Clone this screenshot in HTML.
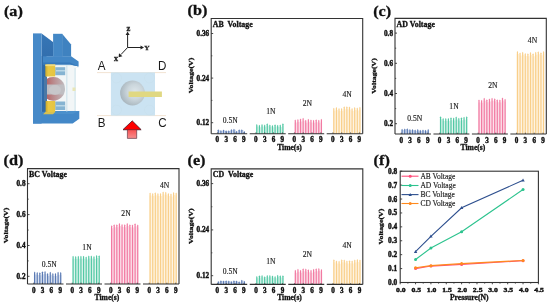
<!DOCTYPE html>
<html><head><meta charset="utf-8"><style>
html,body{margin:0;padding:0;background:#fff;}
svg{display:block;will-change:transform;}
</style></head><body>
<svg width="550" height="306" viewBox="0 0 550 306">
<rect width="550" height="306" fill="#fff"/>
<text transform="translate(197.50,15.05) scale(1.08,1)" font-family='"Liberation Serif", serif' font-size="15" font-weight="bold" text-anchor="middle" fill="#111" stroke="#111" stroke-width="0.3" >(b)</text>
<path d="M211.2,133.7 L211.2,18.5 L362.7,18.5 L362.7,133.7" fill="none" stroke="#333" stroke-width="1.1"/>
<text transform="translate(212.70,26.70) scale(1.09,1)" font-family='"Liberation Serif", serif' font-size="7.25" font-weight="bold" text-anchor="start" fill="#111" stroke="#111" stroke-width="0.3" >AB&#160;&#160;Voltage</text>
<line x1="211.2" y1="33.5" x2="213.2" y2="33.5" stroke="#333" stroke-width="0.9"/>
<text transform="translate(209.20,35.95) scale(0.99,1)" font-family='"Liberation Serif", serif' font-size="7.3" font-weight="bold" text-anchor="end" fill="#111" stroke="#111" stroke-width="0.4" >0.36</text>
<line x1="211.2" y1="78.1" x2="213.2" y2="78.1" stroke="#333" stroke-width="0.9"/>
<text transform="translate(209.20,80.55) scale(0.99,1)" font-family='"Liberation Serif", serif' font-size="7.3" font-weight="bold" text-anchor="end" fill="#111" stroke="#111" stroke-width="0.4" >0.24</text>
<line x1="211.2" y1="122.7" x2="213.2" y2="122.7" stroke="#333" stroke-width="0.9"/>
<text transform="translate(209.20,125.15) scale(0.99,1)" font-family='"Liberation Serif", serif' font-size="7.3" font-weight="bold" text-anchor="end" fill="#111" stroke="#111" stroke-width="0.4" >0.12</text>
<line x1="211.2" y1="55.8" x2="212.39999999999998" y2="55.8" stroke="#333" stroke-width="0.8"/>
<line x1="211.2" y1="100.4" x2="212.39999999999998" y2="100.4" stroke="#333" stroke-width="0.8"/>
<text x="0" y="0" transform="translate(193.2,75.5) rotate(-90) scale(1.13,1)" font-family='"Liberation Serif", serif' font-size="6.9" font-weight="bold" text-anchor="middle" fill="#111" stroke="#111" stroke-width="0.3">Voltage(V)</text>
<polygon points="217.60,133.7 217.60,130.30 220.21,130.30 220.21,130.97 222.82,130.97 222.82,130.59 225.43,130.59 225.43,131.10 228.04,131.10 228.04,131.15 230.65,131.15 230.65,129.92 233.26,129.92 233.26,129.80 235.87,129.80 235.87,131.62 238.48,131.62 238.48,130.35 241.09,130.35 241.09,130.29 243.70,130.29 243.70,131.97 245.10,131.97 245.10,133.7" fill="#c8d4ea" opacity="0.8"/>
<path d="M217.70,133.7 L217.70,130.32 L218.30,129.32 L218.90,130.32 L218.90,133.7 Z" fill="#5a7ab4"/>
<path d="M220.31,133.7 L220.31,131.00 L220.91,130.00 L221.51,131.00 L221.51,133.7 Z" fill="#5a7ab4"/>
<path d="M222.92,133.7 L222.92,130.61 L223.52,129.61 L224.12,130.61 L224.12,133.7 Z" fill="#5a7ab4"/>
<path d="M225.53,133.7 L225.53,131.13 L226.13,130.13 L226.73,131.13 L226.73,133.7 Z" fill="#5a7ab4"/>
<path d="M228.14,133.7 L228.14,131.18 L228.74,130.18 L229.34,131.18 L229.34,133.7 Z" fill="#5a7ab4"/>
<path d="M230.75,133.7 L230.75,129.94 L231.35,128.94 L231.95,129.94 L231.95,133.7 Z" fill="#5a7ab4"/>
<path d="M233.36,133.7 L233.36,129.83 L233.96,128.83 L234.56,129.83 L234.56,133.7 Z" fill="#5a7ab4"/>
<path d="M235.97,133.7 L235.97,131.64 L236.57,130.64 L237.17,131.64 L237.17,133.7 Z" fill="#5a7ab4"/>
<path d="M238.58,133.7 L238.58,130.37 L239.18,129.37 L239.78,130.37 L239.78,133.7 Z" fill="#5a7ab4"/>
<path d="M241.19,133.7 L241.19,130.32 L241.79,129.32 L242.39,130.32 L242.39,133.7 Z" fill="#5a7ab4"/>
<path d="M243.80,133.7 L243.80,131.99 L244.40,130.99 L245.00,131.99 L245.00,133.7 Z" fill="#5a7ab4"/>
<line x1="211.2" y1="133.7" x2="247.2" y2="133.7" stroke="#333" stroke-width="1.1"/>
<line x1="217.40" y1="133.7" x2="217.40" y2="132.39999999999998" stroke="#333" stroke-width="0.7"/>
<text transform="translate(217.40,142.21) scale(0.98,1)" font-family='"Liberation Serif", serif' font-size="7.3" font-weight="bold" text-anchor="middle" fill="#111" stroke="#111" stroke-width="0.4" >0</text>
<line x1="226.23" y1="133.7" x2="226.23" y2="132.39999999999998" stroke="#333" stroke-width="0.7"/>
<text transform="translate(226.23,142.21) scale(0.98,1)" font-family='"Liberation Serif", serif' font-size="7.3" font-weight="bold" text-anchor="middle" fill="#111" stroke="#111" stroke-width="0.4" >3</text>
<line x1="235.06" y1="133.7" x2="235.06" y2="132.39999999999998" stroke="#333" stroke-width="0.7"/>
<text transform="translate(235.06,142.21) scale(0.98,1)" font-family='"Liberation Serif", serif' font-size="7.3" font-weight="bold" text-anchor="middle" fill="#111" stroke="#111" stroke-width="0.4" >6</text>
<line x1="243.89" y1="133.7" x2="243.89" y2="132.39999999999998" stroke="#333" stroke-width="0.7"/>
<text transform="translate(243.89,142.21) scale(0.98,1)" font-family='"Liberation Serif", serif' font-size="7.3" font-weight="bold" text-anchor="middle" fill="#111" stroke="#111" stroke-width="0.4" >9</text>
<text transform="translate(230.30,122.91) scale(1.0,1)" font-family='"Liberation Serif", serif' font-size="7.6" font-weight="normal" text-anchor="middle" fill="#222" stroke="#222" stroke-width="0.15" >0.5N</text>
<polygon points="256.10,133.7 256.10,126.46 258.71,126.46 258.71,127.27 261.32,127.27 261.32,126.47 263.93,126.47 263.93,126.83 266.54,126.83 266.54,125.76 269.15,125.76 269.15,126.82 271.76,126.82 271.76,127.33 274.37,127.33 274.37,126.58 276.98,126.58 276.98,127.06 279.59,127.06 279.59,126.90 282.20,126.90 282.20,125.57 283.60,125.57 283.60,133.7" fill="#c8eee2" opacity="0.8"/>
<path d="M256.20,133.7 L256.20,125.03 L256.80,124.03 L257.40,125.03 L257.40,133.7 Z" fill="#52c8a4"/>
<rect x="258.35" y="126.03" width="0.45" height="6.67" fill="#fff" opacity="0.7"/>
<path d="M258.81,133.7 L258.81,125.84 L259.41,124.84 L260.01,125.84 L260.01,133.7 Z" fill="#52c8a4"/>
<rect x="260.96" y="126.84" width="0.45" height="5.86" fill="#fff" opacity="0.7"/>
<path d="M261.42,133.7 L261.42,125.05 L262.02,124.05 L262.62,125.05 L262.62,133.7 Z" fill="#52c8a4"/>
<rect x="263.57" y="126.05" width="0.45" height="6.65" fill="#fff" opacity="0.7"/>
<path d="M264.03,133.7 L264.03,125.41 L264.63,124.41 L265.23,125.41 L265.23,133.7 Z" fill="#52c8a4"/>
<rect x="266.18" y="126.41" width="0.45" height="6.29" fill="#fff" opacity="0.7"/>
<path d="M266.64,133.7 L266.64,124.33 L267.24,123.33 L267.84,124.33 L267.84,133.7 Z" fill="#52c8a4"/>
<rect x="268.79" y="125.33" width="0.45" height="7.37" fill="#fff" opacity="0.7"/>
<path d="M269.25,133.7 L269.25,125.40 L269.85,124.40 L270.45,125.40 L270.45,133.7 Z" fill="#52c8a4"/>
<rect x="271.40" y="126.40" width="0.45" height="6.30" fill="#fff" opacity="0.7"/>
<path d="M271.86,133.7 L271.86,125.91 L272.46,124.91 L273.06,125.91 L273.06,133.7 Z" fill="#52c8a4"/>
<rect x="274.01" y="126.91" width="0.45" height="5.79" fill="#fff" opacity="0.7"/>
<path d="M274.47,133.7 L274.47,125.15 L275.07,124.15 L275.67,125.15 L275.67,133.7 Z" fill="#52c8a4"/>
<rect x="276.62" y="126.15" width="0.45" height="6.55" fill="#fff" opacity="0.7"/>
<path d="M277.08,133.7 L277.08,125.63 L277.68,124.63 L278.28,125.63 L278.28,133.7 Z" fill="#52c8a4"/>
<rect x="279.23" y="126.63" width="0.45" height="6.07" fill="#fff" opacity="0.7"/>
<path d="M279.69,133.7 L279.69,125.48 L280.29,124.48 L280.89,125.48 L280.89,133.7 Z" fill="#52c8a4"/>
<rect x="281.84" y="126.48" width="0.45" height="6.22" fill="#fff" opacity="0.7"/>
<path d="M282.30,133.7 L282.30,124.14 L282.90,123.14 L283.50,124.14 L283.50,133.7 Z" fill="#52c8a4"/>
<line x1="249.7" y1="133.7" x2="285.7" y2="133.7" stroke="#333" stroke-width="1.1"/>
<line x1="255.90" y1="133.7" x2="255.90" y2="132.39999999999998" stroke="#333" stroke-width="0.7"/>
<text transform="translate(255.90,142.21) scale(0.98,1)" font-family='"Liberation Serif", serif' font-size="7.3" font-weight="bold" text-anchor="middle" fill="#111" stroke="#111" stroke-width="0.4" >0</text>
<line x1="264.73" y1="133.7" x2="264.73" y2="132.39999999999998" stroke="#333" stroke-width="0.7"/>
<text transform="translate(264.73,142.21) scale(0.98,1)" font-family='"Liberation Serif", serif' font-size="7.3" font-weight="bold" text-anchor="middle" fill="#111" stroke="#111" stroke-width="0.4" >3</text>
<line x1="273.56" y1="133.7" x2="273.56" y2="132.39999999999998" stroke="#333" stroke-width="0.7"/>
<text transform="translate(273.56,142.21) scale(0.98,1)" font-family='"Liberation Serif", serif' font-size="7.3" font-weight="bold" text-anchor="middle" fill="#111" stroke="#111" stroke-width="0.4" >6</text>
<line x1="282.39" y1="133.7" x2="282.39" y2="132.39999999999998" stroke="#333" stroke-width="0.7"/>
<text transform="translate(282.39,142.21) scale(0.98,1)" font-family='"Liberation Serif", serif' font-size="7.3" font-weight="bold" text-anchor="middle" fill="#111" stroke="#111" stroke-width="0.4" >9</text>
<text transform="translate(270.90,113.61) scale(1.0,1)" font-family='"Liberation Serif", serif' font-size="7.6" font-weight="normal" text-anchor="middle" fill="#222" stroke="#222" stroke-width="0.15" >1N</text>
<polygon points="294.60,133.7 294.60,122.47 297.21,122.47 297.21,122.10 299.82,122.10 299.82,121.46 302.43,121.46 302.43,120.87 305.04,120.87 305.04,122.70 307.65,122.70 307.65,121.84 310.26,121.84 310.26,122.38 312.87,122.38 312.87,122.73 315.48,122.73 315.48,122.37 318.09,122.37 318.09,122.83 320.70,122.83 320.70,121.67 322.10,121.67 322.10,133.7" fill="#fad0de" opacity="0.8"/>
<path d="M294.70,133.7 L294.70,120.47 L295.30,119.47 L295.90,120.47 L295.90,133.7 Z" fill="#f27aa2"/>
<rect x="296.85" y="121.47" width="0.45" height="11.23" fill="#fff" opacity="0.7"/>
<path d="M297.31,133.7 L297.31,120.10 L297.91,119.10 L298.51,120.10 L298.51,133.7 Z" fill="#f27aa2"/>
<rect x="299.46" y="121.10" width="0.45" height="11.60" fill="#fff" opacity="0.7"/>
<path d="M299.92,133.7 L299.92,119.46 L300.52,118.46 L301.12,119.46 L301.12,133.7 Z" fill="#f27aa2"/>
<rect x="302.07" y="120.46" width="0.45" height="12.24" fill="#fff" opacity="0.7"/>
<path d="M302.53,133.7 L302.53,118.87 L303.13,117.87 L303.73,118.87 L303.73,133.7 Z" fill="#f27aa2"/>
<rect x="304.68" y="119.87" width="0.45" height="12.83" fill="#fff" opacity="0.7"/>
<path d="M305.14,133.7 L305.14,120.70 L305.74,119.70 L306.34,120.70 L306.34,133.7 Z" fill="#f27aa2"/>
<rect x="307.29" y="121.70" width="0.45" height="11.00" fill="#fff" opacity="0.7"/>
<path d="M307.75,133.7 L307.75,119.84 L308.35,118.84 L308.95,119.84 L308.95,133.7 Z" fill="#f27aa2"/>
<rect x="309.90" y="120.84" width="0.45" height="11.86" fill="#fff" opacity="0.7"/>
<path d="M310.36,133.7 L310.36,120.38 L310.96,119.38 L311.56,120.38 L311.56,133.7 Z" fill="#f27aa2"/>
<rect x="312.51" y="121.38" width="0.45" height="11.32" fill="#fff" opacity="0.7"/>
<path d="M312.97,133.7 L312.97,120.73 L313.57,119.73 L314.17,120.73 L314.17,133.7 Z" fill="#f27aa2"/>
<rect x="315.12" y="121.73" width="0.45" height="10.97" fill="#fff" opacity="0.7"/>
<path d="M315.58,133.7 L315.58,120.37 L316.18,119.37 L316.78,120.37 L316.78,133.7 Z" fill="#f27aa2"/>
<rect x="317.73" y="121.37" width="0.45" height="11.33" fill="#fff" opacity="0.7"/>
<path d="M318.19,133.7 L318.19,120.83 L318.79,119.83 L319.39,120.83 L319.39,133.7 Z" fill="#f27aa2"/>
<rect x="320.34" y="121.83" width="0.45" height="10.87" fill="#fff" opacity="0.7"/>
<path d="M320.80,133.7 L320.80,119.67 L321.40,118.67 L322.00,119.67 L322.00,133.7 Z" fill="#f27aa2"/>
<line x1="288.2" y1="133.7" x2="324.2" y2="133.7" stroke="#333" stroke-width="1.1"/>
<line x1="294.40" y1="133.7" x2="294.40" y2="132.39999999999998" stroke="#333" stroke-width="0.7"/>
<text transform="translate(294.40,142.21) scale(0.98,1)" font-family='"Liberation Serif", serif' font-size="7.3" font-weight="bold" text-anchor="middle" fill="#111" stroke="#111" stroke-width="0.4" >0</text>
<line x1="303.23" y1="133.7" x2="303.23" y2="132.39999999999998" stroke="#333" stroke-width="0.7"/>
<text transform="translate(303.23,142.21) scale(0.98,1)" font-family='"Liberation Serif", serif' font-size="7.3" font-weight="bold" text-anchor="middle" fill="#111" stroke="#111" stroke-width="0.4" >3</text>
<line x1="312.06" y1="133.7" x2="312.06" y2="132.39999999999998" stroke="#333" stroke-width="0.7"/>
<text transform="translate(312.06,142.21) scale(0.98,1)" font-family='"Liberation Serif", serif' font-size="7.3" font-weight="bold" text-anchor="middle" fill="#111" stroke="#111" stroke-width="0.4" >6</text>
<line x1="320.89" y1="133.7" x2="320.89" y2="132.39999999999998" stroke="#333" stroke-width="0.7"/>
<text transform="translate(320.89,142.21) scale(0.98,1)" font-family='"Liberation Serif", serif' font-size="7.3" font-weight="bold" text-anchor="middle" fill="#111" stroke="#111" stroke-width="0.4" >9</text>
<text transform="translate(307.40,106.01) scale(1.0,1)" font-family='"Liberation Serif", serif' font-size="7.6" font-weight="normal" text-anchor="middle" fill="#222" stroke="#222" stroke-width="0.15" >2N</text>
<polygon points="333.10,133.7 333.10,110.76 335.71,110.76 335.71,109.98 338.32,109.98 338.32,111.06 340.93,111.06 340.93,110.93 343.54,110.93 343.54,109.21 346.15,109.21 346.15,109.30 348.76,109.30 348.76,109.48 351.37,109.48 351.37,111.12 353.98,111.12 353.98,109.96 356.59,109.96 356.59,110.38 359.20,110.38 359.20,109.66 360.60,109.66 360.60,133.7" fill="#feedd2" opacity="0.8"/>
<path d="M333.20,133.7 L333.20,108.76 L333.80,107.76 L334.40,108.76 L334.40,133.7 Z" fill="#f9cf8a"/>
<rect x="335.35" y="109.76" width="0.45" height="22.94" fill="#fff" opacity="0.7"/>
<path d="M335.81,133.7 L335.81,107.98 L336.41,106.98 L337.01,107.98 L337.01,133.7 Z" fill="#f9cf8a"/>
<rect x="337.96" y="108.98" width="0.45" height="23.72" fill="#fff" opacity="0.7"/>
<path d="M338.42,133.7 L338.42,109.06 L339.02,108.06 L339.62,109.06 L339.62,133.7 Z" fill="#f9cf8a"/>
<rect x="340.57" y="110.06" width="0.45" height="22.64" fill="#fff" opacity="0.7"/>
<path d="M341.03,133.7 L341.03,108.93 L341.63,107.93 L342.23,108.93 L342.23,133.7 Z" fill="#f9cf8a"/>
<rect x="343.18" y="109.93" width="0.45" height="22.77" fill="#fff" opacity="0.7"/>
<path d="M343.64,133.7 L343.64,107.21 L344.24,106.21 L344.84,107.21 L344.84,133.7 Z" fill="#f9cf8a"/>
<rect x="345.79" y="108.21" width="0.45" height="24.49" fill="#fff" opacity="0.7"/>
<path d="M346.25,133.7 L346.25,107.30 L346.85,106.30 L347.45,107.30 L347.45,133.7 Z" fill="#f9cf8a"/>
<rect x="348.40" y="108.30" width="0.45" height="24.40" fill="#fff" opacity="0.7"/>
<path d="M348.86,133.7 L348.86,107.48 L349.46,106.48 L350.06,107.48 L350.06,133.7 Z" fill="#f9cf8a"/>
<rect x="351.01" y="108.48" width="0.45" height="24.22" fill="#fff" opacity="0.7"/>
<path d="M351.47,133.7 L351.47,109.12 L352.07,108.12 L352.67,109.12 L352.67,133.7 Z" fill="#f9cf8a"/>
<rect x="353.62" y="110.12" width="0.45" height="22.58" fill="#fff" opacity="0.7"/>
<path d="M354.08,133.7 L354.08,107.96 L354.68,106.96 L355.28,107.96 L355.28,133.7 Z" fill="#f9cf8a"/>
<rect x="356.23" y="108.96" width="0.45" height="23.74" fill="#fff" opacity="0.7"/>
<path d="M356.69,133.7 L356.69,108.38 L357.29,107.38 L357.89,108.38 L357.89,133.7 Z" fill="#f9cf8a"/>
<rect x="358.84" y="109.38" width="0.45" height="23.32" fill="#fff" opacity="0.7"/>
<path d="M359.30,133.7 L359.30,107.66 L359.90,106.66 L360.50,107.66 L360.50,133.7 Z" fill="#f9cf8a"/>
<line x1="326.7" y1="133.7" x2="362.7" y2="133.7" stroke="#333" stroke-width="1.1"/>
<line x1="332.90" y1="133.7" x2="332.90" y2="132.39999999999998" stroke="#333" stroke-width="0.7"/>
<text transform="translate(332.90,142.21) scale(0.98,1)" font-family='"Liberation Serif", serif' font-size="7.3" font-weight="bold" text-anchor="middle" fill="#111" stroke="#111" stroke-width="0.4" >0</text>
<line x1="341.73" y1="133.7" x2="341.73" y2="132.39999999999998" stroke="#333" stroke-width="0.7"/>
<text transform="translate(341.73,142.21) scale(0.98,1)" font-family='"Liberation Serif", serif' font-size="7.3" font-weight="bold" text-anchor="middle" fill="#111" stroke="#111" stroke-width="0.4" >3</text>
<line x1="350.56" y1="133.7" x2="350.56" y2="132.39999999999998" stroke="#333" stroke-width="0.7"/>
<text transform="translate(350.56,142.21) scale(0.98,1)" font-family='"Liberation Serif", serif' font-size="7.3" font-weight="bold" text-anchor="middle" fill="#111" stroke="#111" stroke-width="0.4" >6</text>
<line x1="359.39" y1="133.7" x2="359.39" y2="132.39999999999998" stroke="#333" stroke-width="0.7"/>
<text transform="translate(359.39,142.21) scale(0.98,1)" font-family='"Liberation Serif", serif' font-size="7.3" font-weight="bold" text-anchor="middle" fill="#111" stroke="#111" stroke-width="0.4" >9</text>
<text transform="translate(347.20,97.31) scale(1.0,1)" font-family='"Liberation Serif", serif' font-size="7.6" font-weight="normal" text-anchor="middle" fill="#222" stroke="#222" stroke-width="0.15" >4N</text>
<text transform="translate(289.50,149.81) scale(1.0,1)" font-family='"Liberation Serif", serif' font-size="7.6" font-weight="bold" text-anchor="middle" fill="#111" stroke="#111" stroke-width="0.3" >Time(s)</text>
<text transform="translate(382.20,15.55) scale(1.08,1)" font-family='"Liberation Serif", serif' font-size="15" font-weight="bold" text-anchor="middle" fill="#111" stroke="#111" stroke-width="0.3" >(c)</text>
<path d="M395.0,134.0 L395.0,18.4 L546.3,18.4 L546.3,134.0" fill="none" stroke="#333" stroke-width="1.1"/>
<text transform="translate(396.50,26.60) scale(1.09,1)" font-family='"Liberation Serif", serif' font-size="7.25" font-weight="bold" text-anchor="start" fill="#111" stroke="#111" stroke-width="0.3" >AD Voltage</text>
<line x1="395.0" y1="33.1" x2="397.0" y2="33.1" stroke="#333" stroke-width="0.9"/>
<text transform="translate(393.00,35.55) scale(0.99,1)" font-family='"Liberation Serif", serif' font-size="7.3" font-weight="bold" text-anchor="end" fill="#111" stroke="#111" stroke-width="0.4" >0.8</text>
<line x1="395.0" y1="63.3" x2="397.0" y2="63.3" stroke="#333" stroke-width="0.9"/>
<text transform="translate(393.00,65.75) scale(0.99,1)" font-family='"Liberation Serif", serif' font-size="7.3" font-weight="bold" text-anchor="end" fill="#111" stroke="#111" stroke-width="0.4" >0.6</text>
<line x1="395.0" y1="93.5" x2="397.0" y2="93.5" stroke="#333" stroke-width="0.9"/>
<text transform="translate(393.00,95.95) scale(0.99,1)" font-family='"Liberation Serif", serif' font-size="7.3" font-weight="bold" text-anchor="end" fill="#111" stroke="#111" stroke-width="0.4" >0.4</text>
<line x1="395.0" y1="123.7" x2="397.0" y2="123.7" stroke="#333" stroke-width="0.9"/>
<text transform="translate(393.00,126.15) scale(0.99,1)" font-family='"Liberation Serif", serif' font-size="7.3" font-weight="bold" text-anchor="end" fill="#111" stroke="#111" stroke-width="0.4" >0.2</text>
<line x1="395.0" y1="48.2" x2="396.2" y2="48.2" stroke="#333" stroke-width="0.8"/>
<line x1="395.0" y1="78.4" x2="396.2" y2="78.4" stroke="#333" stroke-width="0.8"/>
<line x1="395.0" y1="108.6" x2="396.2" y2="108.6" stroke="#333" stroke-width="0.8"/>
<text x="0" y="0" transform="translate(376.3,76.0) rotate(-90) scale(1.13,1)" font-family='"Liberation Serif", serif' font-size="6.9" font-weight="bold" text-anchor="middle" fill="#111" stroke="#111" stroke-width="0.3">Voltage(V)</text>
<polygon points="401.40,134.0 401.40,130.07 404.01,130.07 404.01,129.80 406.62,129.80 406.62,129.72 409.23,129.72 409.23,130.24 411.84,130.24 411.84,130.24 414.45,130.24 414.45,130.94 417.06,130.94 417.06,130.45 419.67,130.45 419.67,130.99 422.28,130.99 422.28,130.83 424.89,130.83 424.89,131.13 427.50,131.13 427.50,130.43 428.90,130.43 428.90,134.0" fill="#c8d4ea" opacity="0.8"/>
<path d="M401.50,134.0 L401.50,129.72 L402.10,128.72 L402.70,129.72 L402.70,134.0 Z" fill="#5a7ab4"/>
<path d="M404.11,134.0 L404.11,129.45 L404.71,128.45 L405.31,129.45 L405.31,134.0 Z" fill="#5a7ab4"/>
<path d="M406.72,134.0 L406.72,129.37 L407.32,128.37 L407.92,129.37 L407.92,134.0 Z" fill="#5a7ab4"/>
<path d="M409.33,134.0 L409.33,129.89 L409.93,128.89 L410.53,129.89 L410.53,134.0 Z" fill="#5a7ab4"/>
<path d="M411.94,134.0 L411.94,129.89 L412.54,128.89 L413.14,129.89 L413.14,134.0 Z" fill="#5a7ab4"/>
<path d="M414.55,134.0 L414.55,130.59 L415.15,129.59 L415.75,130.59 L415.75,134.0 Z" fill="#5a7ab4"/>
<path d="M417.16,134.0 L417.16,130.10 L417.76,129.10 L418.36,130.10 L418.36,134.0 Z" fill="#5a7ab4"/>
<path d="M419.77,134.0 L419.77,130.64 L420.37,129.64 L420.97,130.64 L420.97,134.0 Z" fill="#5a7ab4"/>
<path d="M422.38,134.0 L422.38,130.48 L422.98,129.48 L423.58,130.48 L423.58,134.0 Z" fill="#5a7ab4"/>
<path d="M424.99,134.0 L424.99,130.78 L425.59,129.78 L426.19,130.78 L426.19,134.0 Z" fill="#5a7ab4"/>
<path d="M427.60,134.0 L427.60,130.08 L428.20,129.08 L428.80,130.08 L428.80,134.0 Z" fill="#5a7ab4"/>
<line x1="395.0" y1="134.0" x2="430.95" y2="134.0" stroke="#333" stroke-width="1.1"/>
<line x1="401.20" y1="134.0" x2="401.20" y2="132.7" stroke="#333" stroke-width="0.7"/>
<text transform="translate(401.20,142.51) scale(0.98,1)" font-family='"Liberation Serif", serif' font-size="7.3" font-weight="bold" text-anchor="middle" fill="#111" stroke="#111" stroke-width="0.4" >0</text>
<line x1="410.03" y1="134.0" x2="410.03" y2="132.7" stroke="#333" stroke-width="0.7"/>
<text transform="translate(410.03,142.51) scale(0.98,1)" font-family='"Liberation Serif", serif' font-size="7.3" font-weight="bold" text-anchor="middle" fill="#111" stroke="#111" stroke-width="0.4" >3</text>
<line x1="418.86" y1="134.0" x2="418.86" y2="132.7" stroke="#333" stroke-width="0.7"/>
<text transform="translate(418.86,142.51) scale(0.98,1)" font-family='"Liberation Serif", serif' font-size="7.3" font-weight="bold" text-anchor="middle" fill="#111" stroke="#111" stroke-width="0.4" >6</text>
<line x1="427.69" y1="134.0" x2="427.69" y2="132.7" stroke="#333" stroke-width="0.7"/>
<text transform="translate(427.69,142.51) scale(0.98,1)" font-family='"Liberation Serif", serif' font-size="7.3" font-weight="bold" text-anchor="middle" fill="#111" stroke="#111" stroke-width="0.4" >9</text>
<text transform="translate(414.80,120.61) scale(1.0,1)" font-family='"Liberation Serif", serif' font-size="7.6" font-weight="normal" text-anchor="middle" fill="#222" stroke="#222" stroke-width="0.15" >0.5N</text>
<polygon points="439.85,134.0 439.85,119.36 442.46,119.36 442.46,120.89 445.07,120.89 445.07,121.12 447.68,121.12 447.68,120.99 450.29,120.99 450.29,120.25 452.90,120.25 452.90,120.57 455.51,120.57 455.51,119.46 458.12,119.46 458.12,120.83 460.73,120.83 460.73,120.26 463.34,120.26 463.34,119.63 465.95,119.63 465.95,119.14 467.35,119.14 467.35,134.0" fill="#c8eee2" opacity="0.8"/>
<path d="M439.95,134.0 L439.95,117.36 L440.55,116.36 L441.15,117.36 L441.15,134.0 Z" fill="#52c8a4"/>
<rect x="442.10" y="118.36" width="0.45" height="14.64" fill="#fff" opacity="0.7"/>
<path d="M442.56,134.0 L442.56,118.89 L443.16,117.89 L443.76,118.89 L443.76,134.0 Z" fill="#52c8a4"/>
<rect x="444.71" y="119.89" width="0.45" height="13.11" fill="#fff" opacity="0.7"/>
<path d="M445.17,134.0 L445.17,119.12 L445.77,118.12 L446.37,119.12 L446.37,134.0 Z" fill="#52c8a4"/>
<rect x="447.32" y="120.12" width="0.45" height="12.88" fill="#fff" opacity="0.7"/>
<path d="M447.78,134.0 L447.78,118.99 L448.38,117.99 L448.98,118.99 L448.98,134.0 Z" fill="#52c8a4"/>
<rect x="449.93" y="119.99" width="0.45" height="13.01" fill="#fff" opacity="0.7"/>
<path d="M450.39,134.0 L450.39,118.25 L450.99,117.25 L451.59,118.25 L451.59,134.0 Z" fill="#52c8a4"/>
<rect x="452.54" y="119.25" width="0.45" height="13.75" fill="#fff" opacity="0.7"/>
<path d="M453.00,134.0 L453.00,118.57 L453.60,117.57 L454.20,118.57 L454.20,134.0 Z" fill="#52c8a4"/>
<rect x="455.15" y="119.57" width="0.45" height="13.43" fill="#fff" opacity="0.7"/>
<path d="M455.61,134.0 L455.61,117.46 L456.21,116.46 L456.81,117.46 L456.81,134.0 Z" fill="#52c8a4"/>
<rect x="457.76" y="118.46" width="0.45" height="14.54" fill="#fff" opacity="0.7"/>
<path d="M458.22,134.0 L458.22,118.83 L458.82,117.83 L459.42,118.83 L459.42,134.0 Z" fill="#52c8a4"/>
<rect x="460.37" y="119.83" width="0.45" height="13.17" fill="#fff" opacity="0.7"/>
<path d="M460.83,134.0 L460.83,118.26 L461.43,117.26 L462.03,118.26 L462.03,134.0 Z" fill="#52c8a4"/>
<rect x="462.98" y="119.26" width="0.45" height="13.74" fill="#fff" opacity="0.7"/>
<path d="M463.44,134.0 L463.44,117.63 L464.04,116.63 L464.64,117.63 L464.64,134.0 Z" fill="#52c8a4"/>
<rect x="465.59" y="118.63" width="0.45" height="14.37" fill="#fff" opacity="0.7"/>
<path d="M466.05,134.0 L466.05,117.14 L466.65,116.14 L467.25,117.14 L467.25,134.0 Z" fill="#52c8a4"/>
<line x1="433.45" y1="134.0" x2="469.4" y2="134.0" stroke="#333" stroke-width="1.1"/>
<line x1="439.65" y1="134.0" x2="439.65" y2="132.7" stroke="#333" stroke-width="0.7"/>
<text transform="translate(439.65,142.51) scale(0.98,1)" font-family='"Liberation Serif", serif' font-size="7.3" font-weight="bold" text-anchor="middle" fill="#111" stroke="#111" stroke-width="0.4" >0</text>
<line x1="448.48" y1="134.0" x2="448.48" y2="132.7" stroke="#333" stroke-width="0.7"/>
<text transform="translate(448.48,142.51) scale(0.98,1)" font-family='"Liberation Serif", serif' font-size="7.3" font-weight="bold" text-anchor="middle" fill="#111" stroke="#111" stroke-width="0.4" >3</text>
<line x1="457.31" y1="134.0" x2="457.31" y2="132.7" stroke="#333" stroke-width="0.7"/>
<text transform="translate(457.31,142.51) scale(0.98,1)" font-family='"Liberation Serif", serif' font-size="7.3" font-weight="bold" text-anchor="middle" fill="#111" stroke="#111" stroke-width="0.4" >6</text>
<line x1="466.14" y1="134.0" x2="466.14" y2="132.7" stroke="#333" stroke-width="0.7"/>
<text transform="translate(466.14,142.51) scale(0.98,1)" font-family='"Liberation Serif", serif' font-size="7.3" font-weight="bold" text-anchor="middle" fill="#111" stroke="#111" stroke-width="0.4" >9</text>
<text transform="translate(454.00,108.71) scale(1.0,1)" font-family='"Liberation Serif", serif' font-size="7.6" font-weight="normal" text-anchor="middle" fill="#222" stroke="#222" stroke-width="0.15" >1N</text>
<polygon points="478.30,134.0 478.30,102.38 480.91,102.38 480.91,102.68 483.52,102.68 483.52,100.69 486.13,100.69 486.13,102.26 488.74,102.26 488.74,101.40 491.35,101.40 491.35,100.83 493.96,100.83 493.96,101.15 496.57,101.15 496.57,102.19 499.18,102.19 499.18,102.42 501.79,102.42 501.79,100.60 504.40,100.60 504.40,101.85 505.80,101.85 505.80,134.0" fill="#fad0de" opacity="0.8"/>
<path d="M478.40,134.0 L478.40,100.38 L479.00,99.38 L479.60,100.38 L479.60,134.0 Z" fill="#f27aa2"/>
<rect x="480.55" y="101.38" width="0.45" height="31.62" fill="#fff" opacity="0.7"/>
<path d="M481.01,134.0 L481.01,100.68 L481.61,99.68 L482.21,100.68 L482.21,134.0 Z" fill="#f27aa2"/>
<rect x="483.16" y="101.68" width="0.45" height="31.32" fill="#fff" opacity="0.7"/>
<path d="M483.62,134.0 L483.62,98.69 L484.22,97.69 L484.82,98.69 L484.82,134.0 Z" fill="#f27aa2"/>
<rect x="485.77" y="99.69" width="0.45" height="33.31" fill="#fff" opacity="0.7"/>
<path d="M486.23,134.0 L486.23,100.26 L486.83,99.26 L487.43,100.26 L487.43,134.0 Z" fill="#f27aa2"/>
<rect x="488.38" y="101.26" width="0.45" height="31.74" fill="#fff" opacity="0.7"/>
<path d="M488.84,134.0 L488.84,99.40 L489.44,98.40 L490.04,99.40 L490.04,134.0 Z" fill="#f27aa2"/>
<rect x="490.99" y="100.40" width="0.45" height="32.60" fill="#fff" opacity="0.7"/>
<path d="M491.45,134.0 L491.45,98.83 L492.05,97.83 L492.65,98.83 L492.65,134.0 Z" fill="#f27aa2"/>
<rect x="493.60" y="99.83" width="0.45" height="33.17" fill="#fff" opacity="0.7"/>
<path d="M494.06,134.0 L494.06,99.15 L494.66,98.15 L495.26,99.15 L495.26,134.0 Z" fill="#f27aa2"/>
<rect x="496.21" y="100.15" width="0.45" height="32.85" fill="#fff" opacity="0.7"/>
<path d="M496.67,134.0 L496.67,100.19 L497.27,99.19 L497.87,100.19 L497.87,134.0 Z" fill="#f27aa2"/>
<rect x="498.82" y="101.19" width="0.45" height="31.81" fill="#fff" opacity="0.7"/>
<path d="M499.28,134.0 L499.28,100.42 L499.88,99.42 L500.48,100.42 L500.48,134.0 Z" fill="#f27aa2"/>
<rect x="501.43" y="101.42" width="0.45" height="31.58" fill="#fff" opacity="0.7"/>
<path d="M501.89,134.0 L501.89,98.60 L502.49,97.60 L503.09,98.60 L503.09,134.0 Z" fill="#f27aa2"/>
<rect x="504.04" y="99.60" width="0.45" height="33.40" fill="#fff" opacity="0.7"/>
<path d="M504.50,134.0 L504.50,99.85 L505.10,98.85 L505.70,99.85 L505.70,134.0 Z" fill="#f27aa2"/>
<line x1="471.9" y1="134.0" x2="507.84999999999997" y2="134.0" stroke="#333" stroke-width="1.1"/>
<line x1="478.10" y1="134.0" x2="478.10" y2="132.7" stroke="#333" stroke-width="0.7"/>
<text transform="translate(478.10,142.51) scale(0.98,1)" font-family='"Liberation Serif", serif' font-size="7.3" font-weight="bold" text-anchor="middle" fill="#111" stroke="#111" stroke-width="0.4" >0</text>
<line x1="486.93" y1="134.0" x2="486.93" y2="132.7" stroke="#333" stroke-width="0.7"/>
<text transform="translate(486.93,142.51) scale(0.98,1)" font-family='"Liberation Serif", serif' font-size="7.3" font-weight="bold" text-anchor="middle" fill="#111" stroke="#111" stroke-width="0.4" >3</text>
<line x1="495.76" y1="134.0" x2="495.76" y2="132.7" stroke="#333" stroke-width="0.7"/>
<text transform="translate(495.76,142.51) scale(0.98,1)" font-family='"Liberation Serif", serif' font-size="7.3" font-weight="bold" text-anchor="middle" fill="#111" stroke="#111" stroke-width="0.4" >6</text>
<line x1="504.59" y1="134.0" x2="504.59" y2="132.7" stroke="#333" stroke-width="0.7"/>
<text transform="translate(504.59,142.51) scale(0.98,1)" font-family='"Liberation Serif", serif' font-size="7.3" font-weight="bold" text-anchor="middle" fill="#111" stroke="#111" stroke-width="0.4" >9</text>
<text transform="translate(492.80,88.11) scale(1.0,1)" font-family='"Liberation Serif", serif' font-size="7.6" font-weight="normal" text-anchor="middle" fill="#222" stroke="#222" stroke-width="0.15" >2N</text>
<polygon points="516.75,134.0 516.75,54.10 519.36,54.10 519.36,55.58 521.97,55.58 521.97,54.73 524.58,54.73 524.58,55.94 527.19,55.94 527.19,56.16 529.80,56.16 529.80,55.11 532.41,55.11 532.41,56.20 535.02,56.20 535.02,54.68 537.63,54.68 537.63,54.17 540.24,54.17 540.24,55.32 542.85,55.32 542.85,54.07 544.25,54.07 544.25,134.0" fill="#feedd2" opacity="0.8"/>
<path d="M516.85,134.0 L516.85,52.10 L517.45,51.10 L518.05,52.10 L518.05,134.0 Z" fill="#f9cf8a"/>
<rect x="519.00" y="53.10" width="0.45" height="79.90" fill="#fff" opacity="0.7"/>
<path d="M519.46,134.0 L519.46,53.58 L520.06,52.58 L520.66,53.58 L520.66,134.0 Z" fill="#f9cf8a"/>
<rect x="521.61" y="54.58" width="0.45" height="78.42" fill="#fff" opacity="0.7"/>
<path d="M522.07,134.0 L522.07,52.73 L522.67,51.73 L523.27,52.73 L523.27,134.0 Z" fill="#f9cf8a"/>
<rect x="524.22" y="53.73" width="0.45" height="79.27" fill="#fff" opacity="0.7"/>
<path d="M524.68,134.0 L524.68,53.94 L525.28,52.94 L525.88,53.94 L525.88,134.0 Z" fill="#f9cf8a"/>
<rect x="526.83" y="54.94" width="0.45" height="78.06" fill="#fff" opacity="0.7"/>
<path d="M527.29,134.0 L527.29,54.16 L527.89,53.16 L528.49,54.16 L528.49,134.0 Z" fill="#f9cf8a"/>
<rect x="529.44" y="55.16" width="0.45" height="77.84" fill="#fff" opacity="0.7"/>
<path d="M529.90,134.0 L529.90,53.11 L530.50,52.11 L531.10,53.11 L531.10,134.0 Z" fill="#f9cf8a"/>
<rect x="532.05" y="54.11" width="0.45" height="78.89" fill="#fff" opacity="0.7"/>
<path d="M532.51,134.0 L532.51,54.20 L533.11,53.20 L533.71,54.20 L533.71,134.0 Z" fill="#f9cf8a"/>
<rect x="534.66" y="55.20" width="0.45" height="77.80" fill="#fff" opacity="0.7"/>
<path d="M535.12,134.0 L535.12,52.68 L535.72,51.68 L536.32,52.68 L536.32,134.0 Z" fill="#f9cf8a"/>
<rect x="537.27" y="53.68" width="0.45" height="79.32" fill="#fff" opacity="0.7"/>
<path d="M537.73,134.0 L537.73,52.17 L538.33,51.17 L538.93,52.17 L538.93,134.0 Z" fill="#f9cf8a"/>
<rect x="539.88" y="53.17" width="0.45" height="79.83" fill="#fff" opacity="0.7"/>
<path d="M540.34,134.0 L540.34,53.32 L540.94,52.32 L541.54,53.32 L541.54,134.0 Z" fill="#f9cf8a"/>
<rect x="542.49" y="54.32" width="0.45" height="78.68" fill="#fff" opacity="0.7"/>
<path d="M542.95,134.0 L542.95,52.07 L543.55,51.07 L544.15,52.07 L544.15,134.0 Z" fill="#f9cf8a"/>
<line x1="510.34999999999997" y1="134.0" x2="546.3" y2="134.0" stroke="#333" stroke-width="1.1"/>
<line x1="516.55" y1="134.0" x2="516.55" y2="132.7" stroke="#333" stroke-width="0.7"/>
<text transform="translate(516.55,142.51) scale(0.98,1)" font-family='"Liberation Serif", serif' font-size="7.3" font-weight="bold" text-anchor="middle" fill="#111" stroke="#111" stroke-width="0.4" >0</text>
<line x1="525.38" y1="134.0" x2="525.38" y2="132.7" stroke="#333" stroke-width="0.7"/>
<text transform="translate(525.38,142.51) scale(0.98,1)" font-family='"Liberation Serif", serif' font-size="7.3" font-weight="bold" text-anchor="middle" fill="#111" stroke="#111" stroke-width="0.4" >3</text>
<line x1="534.21" y1="134.0" x2="534.21" y2="132.7" stroke="#333" stroke-width="0.7"/>
<text transform="translate(534.21,142.51) scale(0.98,1)" font-family='"Liberation Serif", serif' font-size="7.3" font-weight="bold" text-anchor="middle" fill="#111" stroke="#111" stroke-width="0.4" >6</text>
<line x1="543.04" y1="134.0" x2="543.04" y2="132.7" stroke="#333" stroke-width="0.7"/>
<text transform="translate(543.04,142.51) scale(0.98,1)" font-family='"Liberation Serif", serif' font-size="7.3" font-weight="bold" text-anchor="middle" fill="#111" stroke="#111" stroke-width="0.4" >9</text>
<text transform="translate(532.50,43.31) scale(1.0,1)" font-family='"Liberation Serif", serif' font-size="7.6" font-weight="normal" text-anchor="middle" fill="#222" stroke="#222" stroke-width="0.15" >4N</text>
<text transform="translate(472.90,149.81) scale(1.0,1)" font-family='"Liberation Serif", serif' font-size="7.6" font-weight="bold" text-anchor="middle" fill="#111" stroke="#111" stroke-width="0.3" >Time(s)</text>
<text transform="translate(13.50,164.75) scale(1.08,1)" font-family='"Liberation Serif", serif' font-size="15" font-weight="bold" text-anchor="middle" fill="#111" stroke="#111" stroke-width="0.3" >(d)</text>
<path d="M27.5,284.0 L27.5,168.6 L179.0,168.6 L179.0,284.0" fill="none" stroke="#333" stroke-width="1.1"/>
<text transform="translate(29.00,176.80) scale(1.09,1)" font-family='"Liberation Serif", serif' font-size="7.25" font-weight="bold" text-anchor="start" fill="#111" stroke="#111" stroke-width="0.3" >BC Voltage</text>
<line x1="27.5" y1="183.7" x2="29.5" y2="183.7" stroke="#333" stroke-width="0.9"/>
<text transform="translate(25.50,186.15) scale(0.99,1)" font-family='"Liberation Serif", serif' font-size="7.3" font-weight="bold" text-anchor="end" fill="#111" stroke="#111" stroke-width="0.4" >0.8</text>
<line x1="27.5" y1="214.6" x2="29.5" y2="214.6" stroke="#333" stroke-width="0.9"/>
<text transform="translate(25.50,217.05) scale(0.99,1)" font-family='"Liberation Serif", serif' font-size="7.3" font-weight="bold" text-anchor="end" fill="#111" stroke="#111" stroke-width="0.4" >0.6</text>
<line x1="27.5" y1="245.5" x2="29.5" y2="245.5" stroke="#333" stroke-width="0.9"/>
<text transform="translate(25.50,247.95) scale(0.99,1)" font-family='"Liberation Serif", serif' font-size="7.3" font-weight="bold" text-anchor="end" fill="#111" stroke="#111" stroke-width="0.4" >0.4</text>
<line x1="27.5" y1="276.3" x2="29.5" y2="276.3" stroke="#333" stroke-width="0.9"/>
<text transform="translate(25.50,278.75) scale(0.99,1)" font-family='"Liberation Serif", serif' font-size="7.3" font-weight="bold" text-anchor="end" fill="#111" stroke="#111" stroke-width="0.4" >0.2</text>
<line x1="27.5" y1="199.14999999999998" x2="28.7" y2="199.14999999999998" stroke="#333" stroke-width="0.8"/>
<line x1="27.5" y1="230.05" x2="28.7" y2="230.05" stroke="#333" stroke-width="0.8"/>
<line x1="27.5" y1="260.9" x2="28.7" y2="260.9" stroke="#333" stroke-width="0.8"/>
<text x="0" y="0" transform="translate(8.299999999999999,225.5) rotate(-90) scale(1.13,1)" font-family='"Liberation Serif", serif' font-size="6.9" font-weight="bold" text-anchor="middle" fill="#111" stroke="#111" stroke-width="0.3">Voltage(V)</text>
<polygon points="33.90,284.0 33.90,274.43 36.51,274.43 36.51,274.90 39.12,274.90 39.12,275.34 41.73,275.34 41.73,274.34 44.34,274.34 44.34,274.09 46.95,274.09 46.95,275.91 49.56,275.91 49.56,274.69 52.17,274.69 52.17,276.11 54.78,276.11 54.78,275.97 57.39,275.97 57.39,274.83 60.00,274.83 60.00,275.01 61.40,275.01 61.40,284.0" fill="#c8d4ea" opacity="0.8"/>
<path d="M34.00,284.0 L34.00,272.43 L34.60,271.43 L35.20,272.43 L35.20,284.0 Z" fill="#5a7ab4"/>
<rect x="36.15" y="273.43" width="0.45" height="9.57" fill="#fff" opacity="0.7"/>
<path d="M36.61,284.0 L36.61,272.90 L37.21,271.90 L37.81,272.90 L37.81,284.0 Z" fill="#5a7ab4"/>
<rect x="38.76" y="273.90" width="0.45" height="9.10" fill="#fff" opacity="0.7"/>
<path d="M39.22,284.0 L39.22,273.34 L39.82,272.34 L40.42,273.34 L40.42,284.0 Z" fill="#5a7ab4"/>
<rect x="41.37" y="274.34" width="0.45" height="8.66" fill="#fff" opacity="0.7"/>
<path d="M41.83,284.0 L41.83,272.34 L42.43,271.34 L43.03,272.34 L43.03,284.0 Z" fill="#5a7ab4"/>
<rect x="43.98" y="273.34" width="0.45" height="9.66" fill="#fff" opacity="0.7"/>
<path d="M44.44,284.0 L44.44,272.09 L45.04,271.09 L45.64,272.09 L45.64,284.0 Z" fill="#5a7ab4"/>
<rect x="46.59" y="273.09" width="0.45" height="9.91" fill="#fff" opacity="0.7"/>
<path d="M47.05,284.0 L47.05,273.91 L47.65,272.91 L48.25,273.91 L48.25,284.0 Z" fill="#5a7ab4"/>
<rect x="49.20" y="274.91" width="0.45" height="8.09" fill="#fff" opacity="0.7"/>
<path d="M49.66,284.0 L49.66,272.69 L50.26,271.69 L50.86,272.69 L50.86,284.0 Z" fill="#5a7ab4"/>
<rect x="51.81" y="273.69" width="0.45" height="9.31" fill="#fff" opacity="0.7"/>
<path d="M52.27,284.0 L52.27,274.11 L52.87,273.11 L53.47,274.11 L53.47,284.0 Z" fill="#5a7ab4"/>
<rect x="54.42" y="275.11" width="0.45" height="7.89" fill="#fff" opacity="0.7"/>
<path d="M54.88,284.0 L54.88,273.97 L55.48,272.97 L56.08,273.97 L56.08,284.0 Z" fill="#5a7ab4"/>
<rect x="57.03" y="274.97" width="0.45" height="8.03" fill="#fff" opacity="0.7"/>
<path d="M57.49,284.0 L57.49,272.83 L58.09,271.83 L58.69,272.83 L58.69,284.0 Z" fill="#5a7ab4"/>
<rect x="59.64" y="273.83" width="0.45" height="9.17" fill="#fff" opacity="0.7"/>
<path d="M60.10,284.0 L60.10,273.01 L60.70,272.01 L61.30,273.01 L61.30,284.0 Z" fill="#5a7ab4"/>
<line x1="27.5" y1="284.0" x2="63.5" y2="284.0" stroke="#333" stroke-width="1.1"/>
<line x1="33.70" y1="284.0" x2="33.70" y2="282.7" stroke="#333" stroke-width="0.7"/>
<text transform="translate(33.70,292.51) scale(0.98,1)" font-family='"Liberation Serif", serif' font-size="7.3" font-weight="bold" text-anchor="middle" fill="#111" stroke="#111" stroke-width="0.4" >0</text>
<line x1="42.53" y1="284.0" x2="42.53" y2="282.7" stroke="#333" stroke-width="0.7"/>
<text transform="translate(42.53,292.51) scale(0.98,1)" font-family='"Liberation Serif", serif' font-size="7.3" font-weight="bold" text-anchor="middle" fill="#111" stroke="#111" stroke-width="0.4" >3</text>
<line x1="51.36" y1="284.0" x2="51.36" y2="282.7" stroke="#333" stroke-width="0.7"/>
<text transform="translate(51.36,292.51) scale(0.98,1)" font-family='"Liberation Serif", serif' font-size="7.3" font-weight="bold" text-anchor="middle" fill="#111" stroke="#111" stroke-width="0.4" >6</text>
<line x1="60.19" y1="284.0" x2="60.19" y2="282.7" stroke="#333" stroke-width="0.7"/>
<text transform="translate(60.19,292.51) scale(0.98,1)" font-family='"Liberation Serif", serif' font-size="7.3" font-weight="bold" text-anchor="middle" fill="#111" stroke="#111" stroke-width="0.4" >9</text>
<text transform="translate(49.20,266.71) scale(1.0,1)" font-family='"Liberation Serif", serif' font-size="7.6" font-weight="normal" text-anchor="middle" fill="#222" stroke="#222" stroke-width="0.15" >0.5N</text>
<polygon points="72.40,284.0 72.40,258.64 75.01,258.64 75.01,258.92 77.62,258.92 77.62,258.81 80.23,258.81 80.23,258.73 82.84,258.73 82.84,258.86 85.45,258.86 85.45,259.57 88.06,259.57 88.06,258.62 90.67,258.62 90.67,258.45 93.28,258.45 93.28,259.08 95.89,259.08 95.89,258.02 98.50,258.02 98.50,258.16 99.90,258.16 99.90,284.0" fill="#c8eee2" opacity="0.8"/>
<path d="M72.50,284.0 L72.50,256.64 L73.10,255.64 L73.70,256.64 L73.70,284.0 Z" fill="#52c8a4"/>
<rect x="74.65" y="257.64" width="0.45" height="25.36" fill="#fff" opacity="0.7"/>
<path d="M75.11,284.0 L75.11,256.92 L75.71,255.92 L76.31,256.92 L76.31,284.0 Z" fill="#52c8a4"/>
<rect x="77.26" y="257.92" width="0.45" height="25.08" fill="#fff" opacity="0.7"/>
<path d="M77.72,284.0 L77.72,256.81 L78.32,255.81 L78.92,256.81 L78.92,284.0 Z" fill="#52c8a4"/>
<rect x="79.87" y="257.81" width="0.45" height="25.19" fill="#fff" opacity="0.7"/>
<path d="M80.33,284.0 L80.33,256.73 L80.93,255.73 L81.53,256.73 L81.53,284.0 Z" fill="#52c8a4"/>
<rect x="82.48" y="257.73" width="0.45" height="25.27" fill="#fff" opacity="0.7"/>
<path d="M82.94,284.0 L82.94,256.86 L83.54,255.86 L84.14,256.86 L84.14,284.0 Z" fill="#52c8a4"/>
<rect x="85.09" y="257.86" width="0.45" height="25.14" fill="#fff" opacity="0.7"/>
<path d="M85.55,284.0 L85.55,257.57 L86.15,256.57 L86.75,257.57 L86.75,284.0 Z" fill="#52c8a4"/>
<rect x="87.70" y="258.57" width="0.45" height="24.43" fill="#fff" opacity="0.7"/>
<path d="M88.16,284.0 L88.16,256.62 L88.76,255.62 L89.36,256.62 L89.36,284.0 Z" fill="#52c8a4"/>
<rect x="90.31" y="257.62" width="0.45" height="25.38" fill="#fff" opacity="0.7"/>
<path d="M90.77,284.0 L90.77,256.45 L91.37,255.45 L91.97,256.45 L91.97,284.0 Z" fill="#52c8a4"/>
<rect x="92.92" y="257.45" width="0.45" height="25.55" fill="#fff" opacity="0.7"/>
<path d="M93.38,284.0 L93.38,257.08 L93.98,256.08 L94.58,257.08 L94.58,284.0 Z" fill="#52c8a4"/>
<rect x="95.53" y="258.08" width="0.45" height="24.92" fill="#fff" opacity="0.7"/>
<path d="M95.99,284.0 L95.99,256.02 L96.59,255.02 L97.19,256.02 L97.19,284.0 Z" fill="#52c8a4"/>
<rect x="98.14" y="257.02" width="0.45" height="25.98" fill="#fff" opacity="0.7"/>
<path d="M98.60,284.0 L98.60,256.16 L99.20,255.16 L99.80,256.16 L99.80,284.0 Z" fill="#52c8a4"/>
<line x1="66.0" y1="284.0" x2="102.0" y2="284.0" stroke="#333" stroke-width="1.1"/>
<line x1="72.20" y1="284.0" x2="72.20" y2="282.7" stroke="#333" stroke-width="0.7"/>
<text transform="translate(72.20,292.51) scale(0.98,1)" font-family='"Liberation Serif", serif' font-size="7.3" font-weight="bold" text-anchor="middle" fill="#111" stroke="#111" stroke-width="0.4" >0</text>
<line x1="81.03" y1="284.0" x2="81.03" y2="282.7" stroke="#333" stroke-width="0.7"/>
<text transform="translate(81.03,292.51) scale(0.98,1)" font-family='"Liberation Serif", serif' font-size="7.3" font-weight="bold" text-anchor="middle" fill="#111" stroke="#111" stroke-width="0.4" >3</text>
<line x1="89.86" y1="284.0" x2="89.86" y2="282.7" stroke="#333" stroke-width="0.7"/>
<text transform="translate(89.86,292.51) scale(0.98,1)" font-family='"Liberation Serif", serif' font-size="7.3" font-weight="bold" text-anchor="middle" fill="#111" stroke="#111" stroke-width="0.4" >6</text>
<line x1="98.69" y1="284.0" x2="98.69" y2="282.7" stroke="#333" stroke-width="0.7"/>
<text transform="translate(98.69,292.51) scale(0.98,1)" font-family='"Liberation Serif", serif' font-size="7.3" font-weight="bold" text-anchor="middle" fill="#111" stroke="#111" stroke-width="0.4" >9</text>
<text transform="translate(87.00,249.61) scale(1.0,1)" font-family='"Liberation Serif", serif' font-size="7.6" font-weight="normal" text-anchor="middle" fill="#222" stroke="#222" stroke-width="0.15" >1N</text>
<polygon points="110.90,284.0 110.90,228.15 113.51,228.15 113.51,227.15 116.12,227.15 116.12,227.21 118.73,227.21 118.73,226.03 121.34,226.03 121.34,226.91 123.95,226.91 123.95,227.28 126.56,227.28 126.56,226.04 129.17,226.04 129.17,227.35 131.78,227.35 131.78,227.39 134.39,227.39 134.39,226.13 137.00,226.13 137.00,227.38 138.40,227.38 138.40,284.0" fill="#fad0de" opacity="0.8"/>
<path d="M111.00,284.0 L111.00,226.15 L111.60,225.15 L112.20,226.15 L112.20,284.0 Z" fill="#f27aa2"/>
<rect x="113.15" y="227.15" width="0.45" height="55.85" fill="#fff" opacity="0.7"/>
<path d="M113.61,284.0 L113.61,225.15 L114.21,224.15 L114.81,225.15 L114.81,284.0 Z" fill="#f27aa2"/>
<rect x="115.76" y="226.15" width="0.45" height="56.85" fill="#fff" opacity="0.7"/>
<path d="M116.22,284.0 L116.22,225.21 L116.82,224.21 L117.42,225.21 L117.42,284.0 Z" fill="#f27aa2"/>
<rect x="118.37" y="226.21" width="0.45" height="56.79" fill="#fff" opacity="0.7"/>
<path d="M118.83,284.0 L118.83,224.03 L119.43,223.03 L120.03,224.03 L120.03,284.0 Z" fill="#f27aa2"/>
<rect x="120.98" y="225.03" width="0.45" height="57.97" fill="#fff" opacity="0.7"/>
<path d="M121.44,284.0 L121.44,224.91 L122.04,223.91 L122.64,224.91 L122.64,284.0 Z" fill="#f27aa2"/>
<rect x="123.59" y="225.91" width="0.45" height="57.09" fill="#fff" opacity="0.7"/>
<path d="M124.05,284.0 L124.05,225.28 L124.65,224.28 L125.25,225.28 L125.25,284.0 Z" fill="#f27aa2"/>
<rect x="126.20" y="226.28" width="0.45" height="56.72" fill="#fff" opacity="0.7"/>
<path d="M126.66,284.0 L126.66,224.04 L127.26,223.04 L127.86,224.04 L127.86,284.0 Z" fill="#f27aa2"/>
<rect x="128.81" y="225.04" width="0.45" height="57.96" fill="#fff" opacity="0.7"/>
<path d="M129.27,284.0 L129.27,225.35 L129.87,224.35 L130.47,225.35 L130.47,284.0 Z" fill="#f27aa2"/>
<rect x="131.42" y="226.35" width="0.45" height="56.65" fill="#fff" opacity="0.7"/>
<path d="M131.88,284.0 L131.88,225.39 L132.48,224.39 L133.08,225.39 L133.08,284.0 Z" fill="#f27aa2"/>
<rect x="134.03" y="226.39" width="0.45" height="56.61" fill="#fff" opacity="0.7"/>
<path d="M134.49,284.0 L134.49,224.13 L135.09,223.13 L135.69,224.13 L135.69,284.0 Z" fill="#f27aa2"/>
<rect x="136.64" y="225.13" width="0.45" height="57.87" fill="#fff" opacity="0.7"/>
<path d="M137.10,284.0 L137.10,225.38 L137.70,224.38 L138.30,225.38 L138.30,284.0 Z" fill="#f27aa2"/>
<line x1="104.5" y1="284.0" x2="140.5" y2="284.0" stroke="#333" stroke-width="1.1"/>
<line x1="110.70" y1="284.0" x2="110.70" y2="282.7" stroke="#333" stroke-width="0.7"/>
<text transform="translate(110.70,292.51) scale(0.98,1)" font-family='"Liberation Serif", serif' font-size="7.3" font-weight="bold" text-anchor="middle" fill="#111" stroke="#111" stroke-width="0.4" >0</text>
<line x1="119.53" y1="284.0" x2="119.53" y2="282.7" stroke="#333" stroke-width="0.7"/>
<text transform="translate(119.53,292.51) scale(0.98,1)" font-family='"Liberation Serif", serif' font-size="7.3" font-weight="bold" text-anchor="middle" fill="#111" stroke="#111" stroke-width="0.4" >3</text>
<line x1="128.36" y1="284.0" x2="128.36" y2="282.7" stroke="#333" stroke-width="0.7"/>
<text transform="translate(128.36,292.51) scale(0.98,1)" font-family='"Liberation Serif", serif' font-size="7.3" font-weight="bold" text-anchor="middle" fill="#111" stroke="#111" stroke-width="0.4" >6</text>
<line x1="137.19" y1="284.0" x2="137.19" y2="282.7" stroke="#333" stroke-width="0.7"/>
<text transform="translate(137.19,292.51) scale(0.98,1)" font-family='"Liberation Serif", serif' font-size="7.3" font-weight="bold" text-anchor="middle" fill="#111" stroke="#111" stroke-width="0.4" >9</text>
<text transform="translate(126.00,216.21) scale(1.0,1)" font-family='"Liberation Serif", serif' font-size="7.6" font-weight="normal" text-anchor="middle" fill="#222" stroke="#222" stroke-width="0.15" >2N</text>
<polygon points="149.40,284.0 149.40,195.53 152.01,195.53 152.01,195.99 154.62,195.99 154.62,195.28 157.23,195.28 157.23,196.06 159.84,196.06 159.84,196.12 162.45,196.12 162.45,194.55 165.06,194.55 165.06,194.63 167.67,194.63 167.67,195.99 170.28,195.99 170.28,196.62 172.89,196.62 172.89,195.05 175.50,195.05 175.50,195.50 176.90,195.50 176.90,284.0" fill="#feedd2" opacity="0.8"/>
<path d="M149.50,284.0 L149.50,193.53 L150.10,192.53 L150.70,193.53 L150.70,284.0 Z" fill="#f9cf8a"/>
<rect x="151.65" y="194.53" width="0.45" height="88.47" fill="#fff" opacity="0.7"/>
<path d="M152.11,284.0 L152.11,193.99 L152.71,192.99 L153.31,193.99 L153.31,284.0 Z" fill="#f9cf8a"/>
<rect x="154.26" y="194.99" width="0.45" height="88.01" fill="#fff" opacity="0.7"/>
<path d="M154.72,284.0 L154.72,193.28 L155.32,192.28 L155.92,193.28 L155.92,284.0 Z" fill="#f9cf8a"/>
<rect x="156.87" y="194.28" width="0.45" height="88.72" fill="#fff" opacity="0.7"/>
<path d="M157.33,284.0 L157.33,194.06 L157.93,193.06 L158.53,194.06 L158.53,284.0 Z" fill="#f9cf8a"/>
<rect x="159.48" y="195.06" width="0.45" height="87.94" fill="#fff" opacity="0.7"/>
<path d="M159.94,284.0 L159.94,194.12 L160.54,193.12 L161.14,194.12 L161.14,284.0 Z" fill="#f9cf8a"/>
<rect x="162.09" y="195.12" width="0.45" height="87.88" fill="#fff" opacity="0.7"/>
<path d="M162.55,284.0 L162.55,192.55 L163.15,191.55 L163.75,192.55 L163.75,284.0 Z" fill="#f9cf8a"/>
<rect x="164.70" y="193.55" width="0.45" height="89.45" fill="#fff" opacity="0.7"/>
<path d="M165.16,284.0 L165.16,192.63 L165.76,191.63 L166.36,192.63 L166.36,284.0 Z" fill="#f9cf8a"/>
<rect x="167.31" y="193.63" width="0.45" height="89.37" fill="#fff" opacity="0.7"/>
<path d="M167.77,284.0 L167.77,193.99 L168.37,192.99 L168.97,193.99 L168.97,284.0 Z" fill="#f9cf8a"/>
<rect x="169.92" y="194.99" width="0.45" height="88.01" fill="#fff" opacity="0.7"/>
<path d="M170.38,284.0 L170.38,194.62 L170.98,193.62 L171.58,194.62 L171.58,284.0 Z" fill="#f9cf8a"/>
<rect x="172.53" y="195.62" width="0.45" height="87.38" fill="#fff" opacity="0.7"/>
<path d="M172.99,284.0 L172.99,193.05 L173.59,192.05 L174.19,193.05 L174.19,284.0 Z" fill="#f9cf8a"/>
<rect x="175.14" y="194.05" width="0.45" height="88.95" fill="#fff" opacity="0.7"/>
<path d="M175.60,284.0 L175.60,193.50 L176.20,192.50 L176.80,193.50 L176.80,284.0 Z" fill="#f9cf8a"/>
<line x1="143.0" y1="284.0" x2="179.0" y2="284.0" stroke="#333" stroke-width="1.1"/>
<line x1="149.20" y1="284.0" x2="149.20" y2="282.7" stroke="#333" stroke-width="0.7"/>
<text transform="translate(149.20,292.51) scale(0.98,1)" font-family='"Liberation Serif", serif' font-size="7.3" font-weight="bold" text-anchor="middle" fill="#111" stroke="#111" stroke-width="0.4" >0</text>
<line x1="158.03" y1="284.0" x2="158.03" y2="282.7" stroke="#333" stroke-width="0.7"/>
<text transform="translate(158.03,292.51) scale(0.98,1)" font-family='"Liberation Serif", serif' font-size="7.3" font-weight="bold" text-anchor="middle" fill="#111" stroke="#111" stroke-width="0.4" >3</text>
<line x1="166.86" y1="284.0" x2="166.86" y2="282.7" stroke="#333" stroke-width="0.7"/>
<text transform="translate(166.86,292.51) scale(0.98,1)" font-family='"Liberation Serif", serif' font-size="7.3" font-weight="bold" text-anchor="middle" fill="#111" stroke="#111" stroke-width="0.4" >6</text>
<line x1="175.69" y1="284.0" x2="175.69" y2="282.7" stroke="#333" stroke-width="0.7"/>
<text transform="translate(175.69,292.51) scale(0.98,1)" font-family='"Liberation Serif", serif' font-size="7.3" font-weight="bold" text-anchor="middle" fill="#111" stroke="#111" stroke-width="0.4" >9</text>
<text transform="translate(164.70,188.31) scale(1.0,1)" font-family='"Liberation Serif", serif' font-size="7.6" font-weight="normal" text-anchor="middle" fill="#222" stroke="#222" stroke-width="0.15" >4N</text>
<text transform="translate(106.90,299.51) scale(1.0,1)" font-family='"Liberation Serif", serif' font-size="7.6" font-weight="bold" text-anchor="middle" fill="#111" stroke="#111" stroke-width="0.3" >Time(s)</text>
<text transform="translate(196.50,165.15) scale(1.08,1)" font-family='"Liberation Serif", serif' font-size="15" font-weight="bold" text-anchor="middle" fill="#111" stroke="#111" stroke-width="0.3" >(e)</text>
<path d="M211.2,284.4 L211.2,168.9 L362.8,168.9 L362.8,284.4" fill="none" stroke="#333" stroke-width="1.1"/>
<text transform="translate(212.70,177.10) scale(1.09,1)" font-family='"Liberation Serif", serif' font-size="7.25" font-weight="bold" text-anchor="start" fill="#111" stroke="#111" stroke-width="0.3" >CD&#160;&#160;Voltage</text>
<line x1="211.2" y1="183.6" x2="213.2" y2="183.6" stroke="#333" stroke-width="0.9"/>
<text transform="translate(209.20,186.05) scale(0.99,1)" font-family='"Liberation Serif", serif' font-size="7.3" font-weight="bold" text-anchor="end" fill="#111" stroke="#111" stroke-width="0.4" >0.36</text>
<line x1="211.2" y1="229.9" x2="213.2" y2="229.9" stroke="#333" stroke-width="0.9"/>
<text transform="translate(209.20,232.35) scale(0.99,1)" font-family='"Liberation Serif", serif' font-size="7.3" font-weight="bold" text-anchor="end" fill="#111" stroke="#111" stroke-width="0.4" >0.24</text>
<line x1="211.2" y1="275.7" x2="213.2" y2="275.7" stroke="#333" stroke-width="0.9"/>
<text transform="translate(209.20,278.15) scale(0.99,1)" font-family='"Liberation Serif", serif' font-size="7.3" font-weight="bold" text-anchor="end" fill="#111" stroke="#111" stroke-width="0.4" >0.12</text>
<line x1="211.2" y1="206.75" x2="212.39999999999998" y2="206.75" stroke="#333" stroke-width="0.8"/>
<line x1="211.2" y1="252.8" x2="212.39999999999998" y2="252.8" stroke="#333" stroke-width="0.8"/>
<text x="0" y="0" transform="translate(192.79999999999998,226.2) rotate(-90) scale(1.13,1)" font-family='"Liberation Serif", serif' font-size="6.9" font-weight="bold" text-anchor="middle" fill="#111" stroke="#111" stroke-width="0.3">Voltage(V)</text>
<polygon points="217.60,284.4 217.60,281.85 220.21,281.85 220.21,281.25 222.82,281.25 222.82,281.35 225.43,281.35 225.43,281.24 228.04,281.24 228.04,281.36 230.65,281.36 230.65,281.86 233.26,281.86 233.26,281.21 235.87,281.21 235.87,281.38 238.48,281.38 238.48,282.25 241.09,282.25 241.09,280.61 243.70,280.61 243.70,281.80 245.10,281.80 245.10,284.4" fill="#c8d4ea" opacity="0.8"/>
<path d="M217.70,284.4 L217.70,281.90 L218.30,280.90 L218.90,281.90 L218.90,284.4 Z" fill="#5a7ab4"/>
<path d="M220.31,284.4 L220.31,281.30 L220.91,280.30 L221.51,281.30 L221.51,284.4 Z" fill="#5a7ab4"/>
<path d="M222.92,284.4 L222.92,281.40 L223.52,280.40 L224.12,281.40 L224.12,284.4 Z" fill="#5a7ab4"/>
<path d="M225.53,284.4 L225.53,281.29 L226.13,280.29 L226.73,281.29 L226.73,284.4 Z" fill="#5a7ab4"/>
<path d="M228.14,284.4 L228.14,281.41 L228.74,280.41 L229.34,281.41 L229.34,284.4 Z" fill="#5a7ab4"/>
<path d="M230.75,284.4 L230.75,281.91 L231.35,280.91 L231.95,281.91 L231.95,284.4 Z" fill="#5a7ab4"/>
<path d="M233.36,284.4 L233.36,281.26 L233.96,280.26 L234.56,281.26 L234.56,284.4 Z" fill="#5a7ab4"/>
<path d="M235.97,284.4 L235.97,281.43 L236.57,280.43 L237.17,281.43 L237.17,284.4 Z" fill="#5a7ab4"/>
<path d="M238.58,284.4 L238.58,282.30 L239.18,281.30 L239.78,282.30 L239.78,284.4 Z" fill="#5a7ab4"/>
<path d="M241.19,284.4 L241.19,280.66 L241.79,279.66 L242.39,280.66 L242.39,284.4 Z" fill="#5a7ab4"/>
<path d="M243.80,284.4 L243.80,281.85 L244.40,280.85 L245.00,281.85 L245.00,284.4 Z" fill="#5a7ab4"/>
<line x1="211.2" y1="284.4" x2="247.225" y2="284.4" stroke="#333" stroke-width="1.1"/>
<line x1="217.40" y1="284.4" x2="217.40" y2="283.09999999999997" stroke="#333" stroke-width="0.7"/>
<text transform="translate(217.40,292.91) scale(0.98,1)" font-family='"Liberation Serif", serif' font-size="7.3" font-weight="bold" text-anchor="middle" fill="#111" stroke="#111" stroke-width="0.4" >0</text>
<line x1="226.23" y1="284.4" x2="226.23" y2="283.09999999999997" stroke="#333" stroke-width="0.7"/>
<text transform="translate(226.23,292.91) scale(0.98,1)" font-family='"Liberation Serif", serif' font-size="7.3" font-weight="bold" text-anchor="middle" fill="#111" stroke="#111" stroke-width="0.4" >3</text>
<line x1="235.06" y1="284.4" x2="235.06" y2="283.09999999999997" stroke="#333" stroke-width="0.7"/>
<text transform="translate(235.06,292.91) scale(0.98,1)" font-family='"Liberation Serif", serif' font-size="7.3" font-weight="bold" text-anchor="middle" fill="#111" stroke="#111" stroke-width="0.4" >6</text>
<line x1="243.89" y1="284.4" x2="243.89" y2="283.09999999999997" stroke="#333" stroke-width="0.7"/>
<text transform="translate(243.89,292.91) scale(0.98,1)" font-family='"Liberation Serif", serif' font-size="7.3" font-weight="bold" text-anchor="middle" fill="#111" stroke="#111" stroke-width="0.4" >9</text>
<text transform="translate(230.30,273.61) scale(1.0,1)" font-family='"Liberation Serif", serif' font-size="7.6" font-weight="normal" text-anchor="middle" fill="#222" stroke="#222" stroke-width="0.15" >0.5N</text>
<polygon points="256.12,284.4 256.12,278.34 258.74,278.34 258.74,277.41 261.35,277.41 261.35,277.21 263.96,277.21 263.95,278.49 266.56,278.49 266.56,277.25 269.18,277.25 269.18,277.14 271.79,277.14 271.79,277.68 274.40,277.68 274.39,278.26 277.00,278.26 277.00,276.95 279.62,276.95 279.62,277.43 282.23,277.43 282.23,277.46 283.62,277.46 283.62,284.4" fill="#c8eee2" opacity="0.8"/>
<path d="M256.22,284.4 L256.22,277.12 L256.82,276.12 L257.43,277.12 L257.43,284.4 Z" fill="#52c8a4"/>
<rect x="258.38" y="278.12" width="0.45" height="5.28" fill="#fff" opacity="0.7"/>
<path d="M258.83,284.4 L258.83,276.18 L259.44,275.18 L260.04,276.18 L260.04,284.4 Z" fill="#52c8a4"/>
<rect x="260.99" y="277.18" width="0.45" height="6.22" fill="#fff" opacity="0.7"/>
<path d="M261.44,284.4 L261.44,275.99 L262.05,274.99 L262.65,275.99 L262.65,284.4 Z" fill="#52c8a4"/>
<rect x="263.60" y="276.99" width="0.45" height="6.41" fill="#fff" opacity="0.7"/>
<path d="M264.05,284.4 L264.05,277.27 L264.65,276.27 L265.25,277.27 L265.25,284.4 Z" fill="#52c8a4"/>
<rect x="266.20" y="278.27" width="0.45" height="5.13" fill="#fff" opacity="0.7"/>
<path d="M266.66,284.4 L266.66,276.03 L267.26,275.03 L267.87,276.03 L267.87,284.4 Z" fill="#52c8a4"/>
<rect x="268.81" y="277.03" width="0.45" height="6.37" fill="#fff" opacity="0.7"/>
<path d="M269.27,284.4 L269.27,275.91 L269.88,274.91 L270.48,275.91 L270.48,284.4 Z" fill="#52c8a4"/>
<rect x="271.43" y="276.91" width="0.45" height="6.49" fill="#fff" opacity="0.7"/>
<path d="M271.88,284.4 L271.88,276.46 L272.49,275.46 L273.09,276.46 L273.09,284.4 Z" fill="#52c8a4"/>
<rect x="274.04" y="277.46" width="0.45" height="5.94" fill="#fff" opacity="0.7"/>
<path d="M274.49,284.4 L274.49,277.04 L275.09,276.04 L275.69,277.04 L275.69,284.4 Z" fill="#52c8a4"/>
<rect x="276.64" y="278.04" width="0.45" height="5.36" fill="#fff" opacity="0.7"/>
<path d="M277.10,284.4 L277.10,275.72 L277.70,274.72 L278.31,275.72 L278.31,284.4 Z" fill="#52c8a4"/>
<rect x="279.25" y="276.72" width="0.45" height="6.68" fill="#fff" opacity="0.7"/>
<path d="M279.71,284.4 L279.71,276.21 L280.31,275.21 L280.92,276.21 L280.92,284.4 Z" fill="#52c8a4"/>
<rect x="281.87" y="277.21" width="0.45" height="6.19" fill="#fff" opacity="0.7"/>
<path d="M282.32,284.4 L282.32,276.23 L282.93,275.23 L283.53,276.23 L283.53,284.4 Z" fill="#52c8a4"/>
<line x1="249.725" y1="284.4" x2="285.75" y2="284.4" stroke="#333" stroke-width="1.1"/>
<line x1="255.92" y1="284.4" x2="255.92" y2="283.09999999999997" stroke="#333" stroke-width="0.7"/>
<text transform="translate(255.92,292.91) scale(0.98,1)" font-family='"Liberation Serif", serif' font-size="7.3" font-weight="bold" text-anchor="middle" fill="#111" stroke="#111" stroke-width="0.4" >0</text>
<line x1="264.75" y1="284.4" x2="264.75" y2="283.09999999999997" stroke="#333" stroke-width="0.7"/>
<text transform="translate(264.75,292.91) scale(0.98,1)" font-family='"Liberation Serif", serif' font-size="7.3" font-weight="bold" text-anchor="middle" fill="#111" stroke="#111" stroke-width="0.4" >3</text>
<line x1="273.58" y1="284.4" x2="273.58" y2="283.09999999999997" stroke="#333" stroke-width="0.7"/>
<text transform="translate(273.58,292.91) scale(0.98,1)" font-family='"Liberation Serif", serif' font-size="7.3" font-weight="bold" text-anchor="middle" fill="#111" stroke="#111" stroke-width="0.4" >6</text>
<line x1="282.41" y1="284.4" x2="282.41" y2="283.09999999999997" stroke="#333" stroke-width="0.7"/>
<text transform="translate(282.41,292.91) scale(0.98,1)" font-family='"Liberation Serif", serif' font-size="7.3" font-weight="bold" text-anchor="middle" fill="#111" stroke="#111" stroke-width="0.4" >9</text>
<text transform="translate(270.90,264.11) scale(1.0,1)" font-family='"Liberation Serif", serif' font-size="7.6" font-weight="normal" text-anchor="middle" fill="#222" stroke="#222" stroke-width="0.15" >1N</text>
<polygon points="294.65,284.4 294.65,272.63 297.26,272.63 297.26,271.76 299.87,271.76 299.87,272.68 302.48,272.68 302.48,271.17 305.09,271.17 305.09,271.54 307.70,271.54 307.70,272.23 310.31,272.23 310.31,272.75 312.92,272.75 312.92,271.79 315.53,271.79 315.53,271.30 318.14,271.30 318.14,271.07 320.75,271.07 320.75,271.97 322.15,271.97 322.15,284.4" fill="#fad0de" opacity="0.8"/>
<path d="M294.75,284.4 L294.75,270.63 L295.35,269.63 L295.95,270.63 L295.95,284.4 Z" fill="#f27aa2"/>
<rect x="296.90" y="271.63" width="0.45" height="11.77" fill="#fff" opacity="0.7"/>
<path d="M297.36,284.4 L297.36,269.76 L297.96,268.76 L298.56,269.76 L298.56,284.4 Z" fill="#f27aa2"/>
<rect x="299.51" y="270.76" width="0.45" height="12.64" fill="#fff" opacity="0.7"/>
<path d="M299.97,284.4 L299.97,270.68 L300.57,269.68 L301.17,270.68 L301.17,284.4 Z" fill="#f27aa2"/>
<rect x="302.12" y="271.68" width="0.45" height="11.72" fill="#fff" opacity="0.7"/>
<path d="M302.58,284.4 L302.58,269.17 L303.18,268.17 L303.78,269.17 L303.78,284.4 Z" fill="#f27aa2"/>
<rect x="304.73" y="270.17" width="0.45" height="13.23" fill="#fff" opacity="0.7"/>
<path d="M305.19,284.4 L305.19,269.54 L305.79,268.54 L306.39,269.54 L306.39,284.4 Z" fill="#f27aa2"/>
<rect x="307.34" y="270.54" width="0.45" height="12.86" fill="#fff" opacity="0.7"/>
<path d="M307.80,284.4 L307.80,270.23 L308.40,269.23 L309.00,270.23 L309.00,284.4 Z" fill="#f27aa2"/>
<rect x="309.95" y="271.23" width="0.45" height="12.17" fill="#fff" opacity="0.7"/>
<path d="M310.41,284.4 L310.41,270.75 L311.01,269.75 L311.61,270.75 L311.61,284.4 Z" fill="#f27aa2"/>
<rect x="312.56" y="271.75" width="0.45" height="11.65" fill="#fff" opacity="0.7"/>
<path d="M313.02,284.4 L313.02,269.79 L313.62,268.79 L314.22,269.79 L314.22,284.4 Z" fill="#f27aa2"/>
<rect x="315.17" y="270.79" width="0.45" height="12.61" fill="#fff" opacity="0.7"/>
<path d="M315.63,284.4 L315.63,269.30 L316.23,268.30 L316.83,269.30 L316.83,284.4 Z" fill="#f27aa2"/>
<rect x="317.78" y="270.30" width="0.45" height="13.10" fill="#fff" opacity="0.7"/>
<path d="M318.24,284.4 L318.24,269.07 L318.84,268.07 L319.44,269.07 L319.44,284.4 Z" fill="#f27aa2"/>
<rect x="320.39" y="270.07" width="0.45" height="13.33" fill="#fff" opacity="0.7"/>
<path d="M320.85,284.4 L320.85,269.97 L321.45,268.97 L322.05,269.97 L322.05,284.4 Z" fill="#f27aa2"/>
<line x1="288.25" y1="284.4" x2="324.275" y2="284.4" stroke="#333" stroke-width="1.1"/>
<line x1="294.45" y1="284.4" x2="294.45" y2="283.09999999999997" stroke="#333" stroke-width="0.7"/>
<text transform="translate(294.45,292.91) scale(0.98,1)" font-family='"Liberation Serif", serif' font-size="7.3" font-weight="bold" text-anchor="middle" fill="#111" stroke="#111" stroke-width="0.4" >0</text>
<line x1="303.28" y1="284.4" x2="303.28" y2="283.09999999999997" stroke="#333" stroke-width="0.7"/>
<text transform="translate(303.28,292.91) scale(0.98,1)" font-family='"Liberation Serif", serif' font-size="7.3" font-weight="bold" text-anchor="middle" fill="#111" stroke="#111" stroke-width="0.4" >3</text>
<line x1="312.11" y1="284.4" x2="312.11" y2="283.09999999999997" stroke="#333" stroke-width="0.7"/>
<text transform="translate(312.11,292.91) scale(0.98,1)" font-family='"Liberation Serif", serif' font-size="7.3" font-weight="bold" text-anchor="middle" fill="#111" stroke="#111" stroke-width="0.4" >6</text>
<line x1="320.94" y1="284.4" x2="320.94" y2="283.09999999999997" stroke="#333" stroke-width="0.7"/>
<text transform="translate(320.94,292.91) scale(0.98,1)" font-family='"Liberation Serif", serif' font-size="7.3" font-weight="bold" text-anchor="middle" fill="#111" stroke="#111" stroke-width="0.4" >9</text>
<text transform="translate(307.40,256.71) scale(1.0,1)" font-family='"Liberation Serif", serif' font-size="7.6" font-weight="normal" text-anchor="middle" fill="#222" stroke="#222" stroke-width="0.15" >2N</text>
<polygon points="333.17,284.4 333.17,262.22 335.78,262.22 335.78,263.57 338.39,263.57 338.39,263.64 341.00,263.64 341.00,262.20 343.61,262.20 343.61,262.41 346.22,262.41 346.22,263.58 348.83,263.58 348.83,263.21 351.44,263.21 351.44,263.57 354.05,263.57 354.05,262.56 356.66,262.56 356.66,262.09 359.27,262.09 359.27,262.44 360.67,262.44 360.67,284.4" fill="#feedd2" opacity="0.8"/>
<path d="M333.27,284.4 L333.27,260.22 L333.87,259.22 L334.47,260.22 L334.47,284.4 Z" fill="#f9cf8a"/>
<rect x="335.42" y="261.22" width="0.45" height="22.18" fill="#fff" opacity="0.7"/>
<path d="M335.88,284.4 L335.88,261.57 L336.48,260.57 L337.08,261.57 L337.08,284.4 Z" fill="#f9cf8a"/>
<rect x="338.03" y="262.57" width="0.45" height="20.83" fill="#fff" opacity="0.7"/>
<path d="M338.49,284.4 L338.49,261.64 L339.09,260.64 L339.69,261.64 L339.69,284.4 Z" fill="#f9cf8a"/>
<rect x="340.64" y="262.64" width="0.45" height="20.76" fill="#fff" opacity="0.7"/>
<path d="M341.10,284.4 L341.10,260.20 L341.70,259.20 L342.30,260.20 L342.30,284.4 Z" fill="#f9cf8a"/>
<rect x="343.25" y="261.20" width="0.45" height="22.20" fill="#fff" opacity="0.7"/>
<path d="M343.71,284.4 L343.71,260.41 L344.31,259.41 L344.91,260.41 L344.91,284.4 Z" fill="#f9cf8a"/>
<rect x="345.86" y="261.41" width="0.45" height="21.99" fill="#fff" opacity="0.7"/>
<path d="M346.32,284.4 L346.32,261.58 L346.92,260.58 L347.52,261.58 L347.52,284.4 Z" fill="#f9cf8a"/>
<rect x="348.47" y="262.58" width="0.45" height="20.82" fill="#fff" opacity="0.7"/>
<path d="M348.93,284.4 L348.93,261.21 L349.53,260.21 L350.13,261.21 L350.13,284.4 Z" fill="#f9cf8a"/>
<rect x="351.08" y="262.21" width="0.45" height="21.19" fill="#fff" opacity="0.7"/>
<path d="M351.54,284.4 L351.54,261.57 L352.14,260.57 L352.74,261.57 L352.74,284.4 Z" fill="#f9cf8a"/>
<rect x="353.69" y="262.57" width="0.45" height="20.83" fill="#fff" opacity="0.7"/>
<path d="M354.15,284.4 L354.15,260.56 L354.75,259.56 L355.35,260.56 L355.35,284.4 Z" fill="#f9cf8a"/>
<rect x="356.30" y="261.56" width="0.45" height="21.84" fill="#fff" opacity="0.7"/>
<path d="M356.76,284.4 L356.76,260.09 L357.36,259.09 L357.96,260.09 L357.96,284.4 Z" fill="#f9cf8a"/>
<rect x="358.91" y="261.09" width="0.45" height="22.31" fill="#fff" opacity="0.7"/>
<path d="M359.37,284.4 L359.37,260.44 L359.97,259.44 L360.57,260.44 L360.57,284.4 Z" fill="#f9cf8a"/>
<line x1="326.775" y1="284.4" x2="362.8" y2="284.4" stroke="#333" stroke-width="1.1"/>
<line x1="332.97" y1="284.4" x2="332.97" y2="283.09999999999997" stroke="#333" stroke-width="0.7"/>
<text transform="translate(332.97,292.91) scale(0.98,1)" font-family='"Liberation Serif", serif' font-size="7.3" font-weight="bold" text-anchor="middle" fill="#111" stroke="#111" stroke-width="0.4" >0</text>
<line x1="341.80" y1="284.4" x2="341.80" y2="283.09999999999997" stroke="#333" stroke-width="0.7"/>
<text transform="translate(341.80,292.91) scale(0.98,1)" font-family='"Liberation Serif", serif' font-size="7.3" font-weight="bold" text-anchor="middle" fill="#111" stroke="#111" stroke-width="0.4" >3</text>
<line x1="350.63" y1="284.4" x2="350.63" y2="283.09999999999997" stroke="#333" stroke-width="0.7"/>
<text transform="translate(350.63,292.91) scale(0.98,1)" font-family='"Liberation Serif", serif' font-size="7.3" font-weight="bold" text-anchor="middle" fill="#111" stroke="#111" stroke-width="0.4" >6</text>
<line x1="359.46" y1="284.4" x2="359.46" y2="283.09999999999997" stroke="#333" stroke-width="0.7"/>
<text transform="translate(359.46,292.91) scale(0.98,1)" font-family='"Liberation Serif", serif' font-size="7.3" font-weight="bold" text-anchor="middle" fill="#111" stroke="#111" stroke-width="0.4" >9</text>
<text transform="translate(347.20,247.81) scale(1.0,1)" font-family='"Liberation Serif", serif' font-size="7.6" font-weight="normal" text-anchor="middle" fill="#222" stroke="#222" stroke-width="0.15" >4N</text>
<text transform="translate(289.50,299.81) scale(1.0,1)" font-family='"Liberation Serif", serif' font-size="7.6" font-weight="bold" text-anchor="middle" fill="#111" stroke="#111" stroke-width="0.3" >Time(s)</text>
<text transform="translate(381.70,165.05) scale(1.08,1)" font-family='"Liberation Serif", serif' font-size="15" font-weight="bold" text-anchor="middle" fill="#111" stroke="#111" stroke-width="0.3" >(f)</text>
<rect x="400.2" y="171.2" width="138.2" height="111.30000000000001" fill="none" stroke="#333" stroke-width="1.1"/>
<line x1="400.2" y1="282.50" x2="402.2" y2="282.50" stroke="#333" stroke-width="0.9"/>
<text transform="translate(397.20,285.00) scale(1.02,1)" font-family='"Liberation Serif", serif' font-size="7.2" font-weight="bold" text-anchor="end" fill="#111" stroke="#111" stroke-width="0.42" >0.0</text>
<line x1="400.2" y1="268.59" x2="402.2" y2="268.59" stroke="#333" stroke-width="0.9"/>
<text transform="translate(397.20,271.09) scale(1.02,1)" font-family='"Liberation Serif", serif' font-size="7.2" font-weight="bold" text-anchor="end" fill="#111" stroke="#111" stroke-width="0.42" >0.1</text>
<line x1="400.2" y1="254.67" x2="402.2" y2="254.67" stroke="#333" stroke-width="0.9"/>
<text transform="translate(397.20,257.17) scale(1.02,1)" font-family='"Liberation Serif", serif' font-size="7.2" font-weight="bold" text-anchor="end" fill="#111" stroke="#111" stroke-width="0.42" >0.2</text>
<line x1="400.2" y1="240.76" x2="402.2" y2="240.76" stroke="#333" stroke-width="0.9"/>
<text transform="translate(397.20,243.26) scale(1.02,1)" font-family='"Liberation Serif", serif' font-size="7.2" font-weight="bold" text-anchor="end" fill="#111" stroke="#111" stroke-width="0.42" >0.3</text>
<line x1="400.2" y1="226.85" x2="402.2" y2="226.85" stroke="#333" stroke-width="0.9"/>
<text transform="translate(397.20,229.35) scale(1.02,1)" font-family='"Liberation Serif", serif' font-size="7.2" font-weight="bold" text-anchor="end" fill="#111" stroke="#111" stroke-width="0.42" >0.4</text>
<line x1="400.2" y1="212.94" x2="402.2" y2="212.94" stroke="#333" stroke-width="0.9"/>
<text transform="translate(397.20,215.44) scale(1.02,1)" font-family='"Liberation Serif", serif' font-size="7.2" font-weight="bold" text-anchor="end" fill="#111" stroke="#111" stroke-width="0.42" >0.5</text>
<line x1="400.2" y1="199.02" x2="402.2" y2="199.02" stroke="#333" stroke-width="0.9"/>
<text transform="translate(397.20,201.52) scale(1.02,1)" font-family='"Liberation Serif", serif' font-size="7.2" font-weight="bold" text-anchor="end" fill="#111" stroke="#111" stroke-width="0.42" >0.6</text>
<line x1="400.2" y1="185.11" x2="402.2" y2="185.11" stroke="#333" stroke-width="0.9"/>
<text transform="translate(397.20,187.61) scale(1.02,1)" font-family='"Liberation Serif", serif' font-size="7.2" font-weight="bold" text-anchor="end" fill="#111" stroke="#111" stroke-width="0.42" >0.7</text>
<line x1="400.2" y1="171.20" x2="402.2" y2="171.20" stroke="#333" stroke-width="0.9"/>
<text transform="translate(397.20,173.70) scale(1.02,1)" font-family='"Liberation Serif", serif' font-size="7.2" font-weight="bold" text-anchor="end" fill="#111" stroke="#111" stroke-width="0.42" >0.8</text>
<line x1="400.20" y1="282.5" x2="400.20" y2="284.3" stroke="#333" stroke-width="0.9"/>
<line x1="407.88" y1="282.5" x2="407.88" y2="283.7" stroke="#333" stroke-width="0.8"/>
<text transform="translate(400.90,291.71) scale(1.1,1)" font-family='"Liberation Serif", serif' font-size="7.0" font-weight="bold" text-anchor="middle" fill="#111" stroke="#111" stroke-width="0.42" >0.0</text>
<line x1="415.56" y1="282.5" x2="415.56" y2="284.3" stroke="#333" stroke-width="0.9"/>
<line x1="423.23" y1="282.5" x2="423.23" y2="283.7" stroke="#333" stroke-width="0.8"/>
<text transform="translate(416.26,291.71) scale(1.1,1)" font-family='"Liberation Serif", serif' font-size="7.0" font-weight="bold" text-anchor="middle" fill="#111" stroke="#111" stroke-width="0.42" >0.5</text>
<line x1="430.91" y1="282.5" x2="430.91" y2="284.3" stroke="#333" stroke-width="0.9"/>
<line x1="438.59" y1="282.5" x2="438.59" y2="283.7" stroke="#333" stroke-width="0.8"/>
<text transform="translate(431.61,291.71) scale(1.1,1)" font-family='"Liberation Serif", serif' font-size="7.0" font-weight="bold" text-anchor="middle" fill="#111" stroke="#111" stroke-width="0.42" >1.0</text>
<line x1="446.27" y1="282.5" x2="446.27" y2="284.3" stroke="#333" stroke-width="0.9"/>
<line x1="453.94" y1="282.5" x2="453.94" y2="283.7" stroke="#333" stroke-width="0.8"/>
<text transform="translate(446.97,291.71) scale(1.1,1)" font-family='"Liberation Serif", serif' font-size="7.0" font-weight="bold" text-anchor="middle" fill="#111" stroke="#111" stroke-width="0.42" >1.5</text>
<line x1="461.62" y1="282.5" x2="461.62" y2="284.3" stroke="#333" stroke-width="0.9"/>
<line x1="469.30" y1="282.5" x2="469.30" y2="283.7" stroke="#333" stroke-width="0.8"/>
<text transform="translate(462.32,291.71) scale(1.1,1)" font-family='"Liberation Serif", serif' font-size="7.0" font-weight="bold" text-anchor="middle" fill="#111" stroke="#111" stroke-width="0.42" >2.0</text>
<line x1="476.98" y1="282.5" x2="476.98" y2="284.3" stroke="#333" stroke-width="0.9"/>
<line x1="484.66" y1="282.5" x2="484.66" y2="283.7" stroke="#333" stroke-width="0.8"/>
<text transform="translate(477.68,291.71) scale(1.1,1)" font-family='"Liberation Serif", serif' font-size="7.0" font-weight="bold" text-anchor="middle" fill="#111" stroke="#111" stroke-width="0.42" >2.5</text>
<line x1="492.33" y1="282.5" x2="492.33" y2="284.3" stroke="#333" stroke-width="0.9"/>
<line x1="500.01" y1="282.5" x2="500.01" y2="283.7" stroke="#333" stroke-width="0.8"/>
<text transform="translate(493.03,291.71) scale(1.1,1)" font-family='"Liberation Serif", serif' font-size="7.0" font-weight="bold" text-anchor="middle" fill="#111" stroke="#111" stroke-width="0.42" >3.0</text>
<line x1="507.69" y1="282.5" x2="507.69" y2="284.3" stroke="#333" stroke-width="0.9"/>
<line x1="515.37" y1="282.5" x2="515.37" y2="283.7" stroke="#333" stroke-width="0.8"/>
<text transform="translate(508.39,291.71) scale(1.1,1)" font-family='"Liberation Serif", serif' font-size="7.0" font-weight="bold" text-anchor="middle" fill="#111" stroke="#111" stroke-width="0.42" >3.5</text>
<line x1="523.04" y1="282.5" x2="523.04" y2="284.3" stroke="#333" stroke-width="0.9"/>
<line x1="530.72" y1="282.5" x2="530.72" y2="283.7" stroke="#333" stroke-width="0.8"/>
<text transform="translate(523.74,291.71) scale(1.1,1)" font-family='"Liberation Serif", serif' font-size="7.0" font-weight="bold" text-anchor="middle" fill="#111" stroke="#111" stroke-width="0.42" >4.0</text>
<line x1="538.40" y1="282.5" x2="538.40" y2="284.3" stroke="#333" stroke-width="0.9"/>
<text transform="translate(539.10,291.71) scale(1.1,1)" font-family='"Liberation Serif", serif' font-size="7.0" font-weight="bold" text-anchor="middle" fill="#111" stroke="#111" stroke-width="0.42" >4.5</text>
<text x="0" y="0" transform="translate(382.9,226.6) rotate(-90) scale(1.13,1)" font-family='"Liberation Serif", serif' font-size="6.9" font-weight="bold" text-anchor="middle" fill="#111" stroke="#111" stroke-width="0.3">Voltage(V)</text>
<text transform="translate(469.20,300.31) scale(1.0,1)" font-family='"Liberation Serif", serif' font-size="7.6" font-weight="bold" text-anchor="middle" fill="#111" stroke="#111" stroke-width="0.3" >Pressure(N)</text>
<polyline points="415.56,268.59 430.91,266.08 461.62,264.41 523.04,260.66" fill="none" stroke="#ff4f7b" stroke-width="1.1"/>
<circle cx="415.56" cy="268.59" r="1.5" fill="#ff4f7b"/>
<circle cx="430.91" cy="266.08" r="1.5" fill="#ff4f7b"/>
<circle cx="461.62" cy="264.41" r="1.5" fill="#ff4f7b"/>
<circle cx="523.04" cy="260.66" r="1.5" fill="#ff4f7b"/>
<line x1="401.5" y1="176.2" x2="418.5" y2="176.2" stroke="#ff4f7b" stroke-width="1.1"/>
<circle cx="410.2" cy="176.2" r="1.5" fill="#ff4f7b"/>
<text transform="translate(420.40,179.07) scale(1.0,1)" font-family='"Liberation Serif", serif' font-size="7.5" font-weight="normal" text-anchor="start" fill="#222" stroke="#222" stroke-width="0.15" >AB Voltage</text>
<polyline points="415.56,259.54 430.91,248.00 461.62,231.72 523.04,189.56" fill="none" stroke="#2cc38e" stroke-width="1.1"/>
<circle cx="415.56" cy="259.54" r="1.5" fill="#2cc38e"/>
<circle cx="430.91" cy="248.00" r="1.5" fill="#2cc38e"/>
<circle cx="461.62" cy="231.72" r="1.5" fill="#2cc38e"/>
<circle cx="523.04" cy="189.56" r="1.5" fill="#2cc38e"/>
<line x1="401.5" y1="185.5" x2="418.5" y2="185.5" stroke="#2cc38e" stroke-width="1.1"/>
<circle cx="410.2" cy="185.5" r="1.5" fill="#2cc38e"/>
<text transform="translate(420.40,188.38) scale(1.0,1)" font-family='"Liberation Serif", serif' font-size="7.5" font-weight="normal" text-anchor="start" fill="#222" stroke="#222" stroke-width="0.15" >AD Voltage</text>
<polyline points="415.56,251.61 430.91,236.31 461.62,207.79 523.04,180.24" fill="none" stroke="#2d4f8e" stroke-width="1.1"/>
<path d="M413.86,252.91 L415.56,249.91 L417.26,252.91 Z" fill="#2d4f8e"/>
<path d="M429.21,237.61 L430.91,234.61 L432.61,237.61 Z" fill="#2d4f8e"/>
<path d="M459.92,209.09 L461.62,206.09 L463.32,209.09 Z" fill="#2d4f8e"/>
<path d="M521.34,181.54 L523.04,178.54 L524.74,181.54 Z" fill="#2d4f8e"/>
<line x1="401.5" y1="194.6" x2="418.5" y2="194.6" stroke="#2d4f8e" stroke-width="1.1"/>
<path d="M408.5,195.9 L410.2,192.9 L411.9,195.9 Z" fill="#2d4f8e"/>
<text transform="translate(420.40,197.47) scale(1.0,1)" font-family='"Liberation Serif", serif' font-size="7.5" font-weight="normal" text-anchor="start" fill="#222" stroke="#222" stroke-width="0.15" >BC Voltage</text>
<polyline points="415.56,267.75 430.91,265.67 461.62,263.58 523.04,260.52" fill="none" stroke="#ff8a1e" stroke-width="1.1"/>
<circle cx="415.56" cy="267.75" r="1.5" fill="#ff8a1e"/>
<circle cx="430.91" cy="265.67" r="1.5" fill="#ff8a1e"/>
<circle cx="461.62" cy="263.58" r="1.5" fill="#ff8a1e"/>
<circle cx="523.04" cy="260.52" r="1.5" fill="#ff8a1e"/>
<line x1="401.5" y1="203.5" x2="418.5" y2="203.5" stroke="#ff8a1e" stroke-width="1.1"/>
<circle cx="410.2" cy="203.5" r="1.5" fill="#ff8a1e"/>
<text transform="translate(420.40,206.38) scale(1.0,1)" font-family='"Liberation Serif", serif' font-size="7.5" font-weight="normal" text-anchor="start" fill="#222" stroke="#222" stroke-width="0.15" >CD Voltage</text>
<text transform="translate(13.40,15.85) scale(1.08,1)" font-family='"Liberation Serif", serif' font-size="15" font-weight="bold" text-anchor="middle" fill="#111" stroke="#111" stroke-width="0.3" >(a)</text>

<g>
 <defs>
  <linearGradient id="sideg" x1="0" y1="0" x2="0" y2="1"><stop offset="0" stop-color="#3676b6"/><stop offset="1" stop-color="#295d9a"/></linearGradient>
  <linearGradient id="sphv" x1="0" y1="0" x2="0" y2="1"><stop offset="0" stop-color="#b85858"/><stop offset="0.18" stop-color="#b89090"/><stop offset="0.32" stop-color="#c2bfc1"/><stop offset="0.68" stop-color="#c2bfc1"/><stop offset="0.82" stop-color="#b89090"/><stop offset="1" stop-color="#b85858"/></linearGradient>
  <radialGradient id="sphh" cx="0.6" cy="0.5" r="0.5"><stop offset="0" stop-color="#cfcfd2" stop-opacity="0.9"/><stop offset="1" stop-color="#cfcfd2" stop-opacity="0"/></radialGradient>
  <clipPath id="sphclip"><rect x="46.5" y="70" width="30" height="40"/></clipPath>
  <linearGradient id="yelg" x1="0" y1="0" x2="1" y2="0"><stop offset="0" stop-color="#c8a830"/><stop offset="0.3" stop-color="#e8c844"/><stop offset="1" stop-color="#e6c440"/></linearGradient>
 </defs>
 <!-- inner dark side of left pillar -->
 <polygon points="41.6,33.4 53,42 53,56.4 46.3,56.4 46.3,113 41.6,113" fill="url(#sideg)"/>
 <rect x="41.6" y="56" width="4.7" height="58" fill="#2f6aa8"/>
 <!-- base plate -->
 <polygon points="33,112 79.3,111 79.3,118.7 72.7,123.6 33,123.6" fill="#4388c8"/>
 <polygon points="44,114 72.7,114 79.3,111 46,111" fill="#4b90cc"/>
 <!-- left pillar front -->
 <rect x="33" y="33.4" width="8.6" height="90.2" fill="#4689c8"/>
 <!-- right pillar front + side -->
 <rect x="53.1" y="33.8" width="9.2" height="23" fill="#4488c6"/>
 <polygon points="62.1,33.8 71.1,44.5 71.1,56.6 62.1,56.6" fill="#3f82c0"/>
 <!-- transparent box -->
 <polygon points="55,64.4 78.6,64.4 78.6,68 76,68 76,111 55,111" fill="#f2f6f7"/>
 <rect x="66.2" y="64.4" width="1.2" height="47" fill="#cfe3ec"/>
 <rect x="74.4" y="68" width="1.3" height="43" fill="#d6e8ee"/>
 <rect x="55" y="64.4" width="23" height="1.3" fill="#d8e8ee"/>
 <rect x="55.2" y="67.2" width="10" height="8" fill="#86b4d2"/>
 <rect x="56" y="70" width="9" height="1.5" fill="#b8d6e6"/>
 <rect x="55.2" y="101.5" width="10" height="8.5" fill="#86b4d2"/>
 <rect x="56" y="105" width="9" height="1.5" fill="#b8d6e6"/>
 <rect x="72.5" y="87.5" width="3" height="3.5" fill="#e8e6b8"/>
 <!-- ledge -->
 <polygon points="42.9,56.2 71.1,56.2 78.6,61.6 78.6,66.6 70,64.5 42.9,64.5" fill="#4387c6"/>
 <polygon points="42.9,62.5 70,62.5 78.6,66.6 70,64.5 42.9,64.5" fill="#3679ba"/>
 <!-- yellow -->
 <path d="M45.3,64.5 L55.2,64.5 L55.2,76.5 L45.3,76.5 Z" fill="url(#yelg)"/>
 <rect x="45.3" y="64.5" width="9.9" height="1.6" fill="#f2dc80"/>
 <path d="M45.6,100.9 L55.2,100.9 L55.2,112 L45.6,112 Z" fill="url(#yelg)"/>
 <polygon points="43,114.3 45.4,112 55.3,112 53,114.3" fill="#d8c050"/>
 <!-- sphere -->
 <defs>
  <clipPath id="sphc2"><circle cx="53.2" cy="88.9" r="11.8"/></clipPath>
  <linearGradient id="redh" x1="0" y1="0" x2="1" y2="0"><stop offset="0" stop-color="#b03a3a" stop-opacity="0.7"/><stop offset="0.55" stop-color="#b85858" stop-opacity="0.35"/><stop offset="1" stop-color="#c06060" stop-opacity="0.0"/></linearGradient>
 </defs>
 <g clip-path="url(#sphclip)">
  <circle cx="53.2" cy="88.9" r="11.8" fill="#bfbec2"/>
  <g clip-path="url(#sphc2)">
   <rect x="46" y="76" width="20" height="8.5" fill="url(#redh)"/>
   <rect x="46" y="94.5" width="20" height="7" fill="url(#redh)"/>
  </g>
  <ellipse cx="55" cy="90" rx="6" ry="5" fill="#cacacd" opacity="0.7"/>
 </g>
 <rect x="44" y="77" width="3" height="24" fill="#4a78a6"/>
</g>

<g stroke="#222" stroke-width="1" fill="#222"><line x1="127.6" y1="47.5" x2="127.6" y2="34"/><path d="M125.6,35 L127.6,31.5 L129.6,35 Z" stroke="none"/><line x1="127.6" y1="47.5" x2="141" y2="47.5"/><path d="M140.5,45.6 L144,47.5 L140.5,49.4 Z" stroke="none"/><line x1="127.6" y1="47.5" x2="121" y2="54.5"/><path d="M119,53.2 L118.6,57.2 L122.4,56.2 Z" stroke="none"/></g>
<text transform="translate(128.40,31.20) scale(1.08,1)" font-family='"Liberation Serif", serif' font-size="8" font-weight="bold" text-anchor="middle" fill="#222" stroke="#222" stroke-width="0.3" >z</text>
<text transform="translate(146.90,49.80) scale(1.08,1)" font-family='"Liberation Serif", serif' font-size="6.8" font-weight="bold" text-anchor="middle" fill="#222" stroke="#222" stroke-width="0.3" >Y</text>
<text transform="translate(116.00,61.30) scale(1.08,1)" font-family='"Liberation Serif", serif' font-size="7.5" font-weight="bold" text-anchor="middle" fill="#222" stroke="#222" stroke-width="0.3" >x</text>
<line x1="97" y1="72.6" x2="166" y2="72.6" stroke="#ecd9c0" stroke-width="0.7"/>
<line x1="97" y1="115.6" x2="166" y2="115.6" stroke="#ecd9c0" stroke-width="0.7"/>
<rect x="110.9" y="72.4" width="44.1" height="43.2" fill="#cbe3f2"/>
<circle cx="116.5" cy="78" r="5" fill="none" stroke="#c6deea" stroke-width="0.5"/>
<circle cx="149.5" cy="78" r="5" fill="none" stroke="#c6deea" stroke-width="0.5"/>
<circle cx="116.5" cy="110" r="5" fill="none" stroke="#c6deea" stroke-width="0.5"/>
<circle cx="149.5" cy="110" r="5" fill="none" stroke="#c6deea" stroke-width="0.5"/>
<defs><radialGradient id="cg" cx="0.6" cy="0.45" r="0.6"><stop offset="0" stop-color="#dde6ea"/><stop offset="0.5" stop-color="#cbd6dc"/><stop offset="1" stop-color="#a9b6be"/></radialGradient></defs>
<circle cx="132.5" cy="93" r="12.4" fill="url(#cg)"/>
<rect x="128.6" y="91.5" width="33.3" height="5.5" fill="#e0d882"/>
<text transform="translate(101.60,70.00) scale(0.97,1)" font-family='"Liberation Sans", sans-serif' font-size="12" font-weight="normal" text-anchor="middle" fill="#1a1a1a" >A</text>
<text transform="translate(162.10,70.00) scale(0.97,1)" font-family='"Liberation Sans", sans-serif' font-size="12" font-weight="normal" text-anchor="middle" fill="#1a1a1a" >D</text>
<text transform="translate(101.60,126.60) scale(0.97,1)" font-family='"Liberation Sans", sans-serif' font-size="12" font-weight="normal" text-anchor="middle" fill="#1a1a1a" >B</text>
<text transform="translate(162.50,126.60) scale(0.97,1)" font-family='"Liberation Sans", sans-serif' font-size="12" font-weight="normal" text-anchor="middle" fill="#1a1a1a" >C</text>
<defs><linearGradient id="ag" x1="0" y1="0" x2="0" y2="1"><stop offset="0" stop-color="#ff1010"/><stop offset="1" stop-color="#f59090"/></linearGradient></defs>
<path d="M132.2,120.9 L141.1,129.7 L136.7,129.7 L136.7,138.4 L127.4,138.4 L127.4,129.7 L123,129.7 Z" fill="url(#ag)" stroke="#4a2636" stroke-width="0.6"/>
<path d="M132.2,120.9 L141.1,129.7 L123,129.7 Z" fill="#ff0000" stroke="#4a2636" stroke-width="0.6"/>
</svg>
</body></html>
